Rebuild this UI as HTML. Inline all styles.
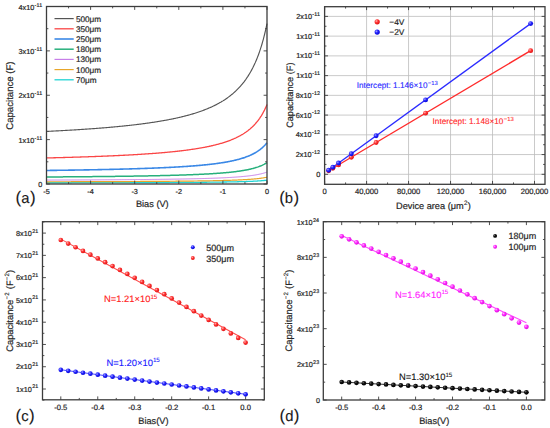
<!DOCTYPE html><html><head><meta charset="utf-8"><style>html,body{margin:0;padding:0;background:#fff;width:550px;height:428px;overflow:hidden}svg{display:block}</style></head><body>
<svg width="550" height="428" viewBox="0 0 550 428" font-family='"Liberation Sans", sans-serif'>
<style>text{stroke-width:0.2px;stroke-linejoin:round;text-rendering:geometricPrecision}</style>
<rect width="550" height="428" fill="#fff"/>
<defs>
<radialGradient id="gr" cx="35%" cy="35%" r="65%"><stop offset="0" stop-color="#ffb4b4"/><stop offset="0.45" stop-color="#ff3636"/><stop offset="1" stop-color="#e01414"/></radialGradient>
<radialGradient id="gb" cx="35%" cy="35%" r="65%"><stop offset="0" stop-color="#a8a8ff"/><stop offset="0.45" stop-color="#2626ff"/><stop offset="1" stop-color="#0808d8"/></radialGradient>
<radialGradient id="gm" cx="35%" cy="35%" r="65%"><stop offset="0" stop-color="#ffb8ff"/><stop offset="0.45" stop-color="#ff2cff"/><stop offset="1" stop-color="#dc10dc"/></radialGradient>
<radialGradient id="gk" cx="35%" cy="35%" r="65%"><stop offset="0" stop-color="#707070"/><stop offset="0.4" stop-color="#111"/><stop offset="1" stop-color="#000"/></radialGradient>
</defs>
<path d="M46.5,182.76 L47.23,182.76 L47.97,182.76 L48.7,182.75 L49.44,182.75 L50.17,182.75 L50.91,182.75 L51.64,182.75 L52.38,182.75 L53.12,182.75 L53.85,182.75 L54.59,182.75 L55.32,182.75 L56.06,182.75 L56.79,182.75 L57.52,182.74 L58.26,182.74 L58.99,182.74 L59.73,182.74 L60.46,182.74 L61.2,182.74 L61.93,182.74 L62.67,182.74 L63.4,182.74 L64.14,182.74 L64.88,182.73 L65.61,182.73 L66.35,182.73 L67.08,182.73 L67.81,182.73 L68.55,182.73 L69.28,182.73 L70.02,182.73 L70.75,182.73 L71.49,182.73 L72.22,182.72 L72.96,182.72 L73.7,182.72 L74.43,182.72 L75.17,182.72 L75.9,182.72 L76.64,182.72 L77.37,182.72 L78.11,182.72 L78.84,182.72 L79.57,182.71 L80.31,182.71 L81.04,182.71 L81.78,182.71 L82.51,182.71 L83.25,182.71 L83.98,182.71 L84.72,182.71 L85.45,182.7 L86.19,182.7 L86.93,182.7 L87.66,182.7 L88.4,182.7 L89.13,182.7 L89.87,182.7 L90.6,182.7 L91.33,182.7 L92.07,182.69 L92.8,182.69 L93.54,182.69 L94.28,182.69 L95.01,182.69 L95.75,182.69 L96.48,182.69 L97.22,182.68 L97.95,182.68 L98.69,182.68 L99.42,182.68 L100.16,182.68 L100.89,182.68 L101.62,182.68 L102.36,182.68 L103.09,182.67 L103.83,182.67 L104.56,182.67 L105.3,182.67 L106.03,182.67 L106.77,182.67 L107.5,182.67 L108.24,182.66 L108.97,182.66 L109.71,182.66 L110.45,182.66 L111.18,182.66 L111.92,182.66 L112.65,182.65 L113.39,182.65 L114.12,182.65 L114.85,182.65 L115.59,182.65 L116.32,182.65 L117.06,182.64 L117.79,182.64 L118.53,182.64 L119.27,182.64 L120,182.64 L120.74,182.64 L121.47,182.63 L122.21,182.63 L122.94,182.63 L123.67,182.63 L124.41,182.63 L125.14,182.63 L125.88,182.62 L126.61,182.62 L127.35,182.62 L128.08,182.62 L128.82,182.62 L129.56,182.61 L130.29,182.61 L131.03,182.61 L131.76,182.61 L132.5,182.61 L133.23,182.6 L133.97,182.6 L134.7,182.6 L135.44,182.6 L136.17,182.6 L136.91,182.59 L137.64,182.59 L138.38,182.59 L139.11,182.59 L139.84,182.59 L140.58,182.58 L141.31,182.58 L142.05,182.58 L142.78,182.58 L143.52,182.57 L144.25,182.57 L144.99,182.57 L145.73,182.57 L146.46,182.57 L147.19,182.56 L147.93,182.56 L148.66,182.56 L149.4,182.56 L150.13,182.55 L150.87,182.55 L151.61,182.55 L152.34,182.55 L153.07,182.54 L153.81,182.54 L154.55,182.54 L155.28,182.53 L156.01,182.53 L156.75,182.53 L157.49,182.53 L158.22,182.52 L158.95,182.52 L159.69,182.52 L160.43,182.52 L161.16,182.51 L161.89,182.51 L162.63,182.51 L163.37,182.5 L164.1,182.5 L164.83,182.5 L165.57,182.49 L166.31,182.49 L167.04,182.49 L167.78,182.48 L168.51,182.48 L169.25,182.48 L169.98,182.47 L170.72,182.47 L171.45,182.47 L172.19,182.46 L172.92,182.46 L173.66,182.46 L174.39,182.45 L175.12,182.45 L175.86,182.45 L176.59,182.44 L177.33,182.44 L178.06,182.43 L178.8,182.43 L179.54,182.43 L180.27,182.42 L181,182.42 L181.74,182.41 L182.47,182.41 L183.21,182.4 L183.94,182.4 L184.68,182.4 L185.41,182.39 L186.15,182.39 L186.89,182.38 L187.62,182.38 L188.35,182.37 L189.09,182.37 L189.83,182.36 L190.56,182.36 L191.29,182.35 L192.03,182.35 L192.76,182.34 L193.5,182.34 L194.24,182.33 L194.97,182.33 L195.7,182.32 L196.44,182.32 L197.18,182.31 L197.91,182.3 L198.64,182.3 L199.38,182.29 L200.12,182.29 L200.85,182.28 L201.59,182.27 L202.32,182.27 L203.05,182.26 L203.79,182.26 L204.53,182.25 L205.26,182.24 L206,182.23 L206.73,182.23 L207.47,182.22 L208.2,182.21 L208.94,182.21 L209.67,182.2 L210.41,182.19 L211.14,182.18 L211.88,182.18 L212.61,182.17 L213.34,182.16 L214.08,182.15 L214.81,182.14 L215.55,182.13 L216.28,182.12 L217.02,182.12 L217.75,182.11 L218.49,182.1 L219.22,182.09 L219.96,182.08 L220.7,182.07 L221.43,182.06 L222.16,182.05 L222.9,182.04 L223.63,182.02 L224.37,182.01 L225.11,182 L225.84,181.99 L226.57,181.98 L227.31,181.97 L228.05,181.95 L228.78,181.94 L229.51,181.93 L230.25,181.91 L230.99,181.9 L231.72,181.89 L232.46,181.87 L233.19,181.86 L233.92,181.84 L234.66,181.83 L235.4,181.81 L236.13,181.79 L236.86,181.78 L237.6,181.76 L238.33,181.74 L239.07,181.72 L239.81,181.71 L240.54,181.69 L241.27,181.67 L242.01,181.65 L242.75,181.62 L243.48,181.6 L244.22,181.58 L244.95,181.56 L245.69,181.53 L246.42,181.51 L247.15,181.48 L247.89,181.46 L248.62,181.43 L249.36,181.4 L250.1,181.37 L250.83,181.34 L251.56,181.31 L252.3,181.28 L253.04,181.24 L253.77,181.21 L254.5,181.17 L255.24,181.13 L255.97,181.09 L256.71,181.05 L257.44,181.01 L258.18,180.96 L258.91,180.92 L259.65,180.87 L260.38,180.81 L261.12,180.76 L261.86,180.7 L262.59,180.64 L263.32,180.58 L264.06,180.51 L264.79,180.44 L265.53,180.37 L266.26,180.29 L267,180.21" fill="none" stroke="#22d4d4" stroke-width="1.3" stroke-linejoin="round" />
<path d="M46.5,181.78 L47.23,181.78 L47.97,181.78 L48.7,181.78 L49.44,181.78 L50.17,181.77 L50.91,181.77 L51.64,181.77 L52.38,181.77 L53.12,181.77 L53.85,181.77 L54.59,181.76 L55.32,181.76 L56.06,181.76 L56.79,181.76 L57.52,181.76 L58.26,181.76 L58.99,181.75 L59.73,181.75 L60.46,181.75 L61.2,181.75 L61.93,181.75 L62.67,181.75 L63.4,181.74 L64.14,181.74 L64.88,181.74 L65.61,181.74 L66.35,181.74 L67.08,181.74 L67.81,181.73 L68.55,181.73 L69.28,181.73 L70.02,181.73 L70.75,181.73 L71.49,181.72 L72.22,181.72 L72.96,181.72 L73.7,181.72 L74.43,181.72 L75.17,181.72 L75.9,181.71 L76.64,181.71 L77.37,181.71 L78.11,181.71 L78.84,181.71 L79.57,181.7 L80.31,181.7 L81.04,181.7 L81.78,181.7 L82.51,181.7 L83.25,181.69 L83.98,181.69 L84.72,181.69 L85.45,181.69 L86.19,181.69 L86.93,181.68 L87.66,181.68 L88.4,181.68 L89.13,181.68 L89.87,181.67 L90.6,181.67 L91.33,181.67 L92.07,181.67 L92.8,181.67 L93.54,181.66 L94.28,181.66 L95.01,181.66 L95.75,181.66 L96.48,181.65 L97.22,181.65 L97.95,181.65 L98.69,181.65 L99.42,181.64 L100.16,181.64 L100.89,181.64 L101.62,181.64 L102.36,181.63 L103.09,181.63 L103.83,181.63 L104.56,181.63 L105.3,181.62 L106.03,181.62 L106.77,181.62 L107.5,181.62 L108.24,181.61 L108.97,181.61 L109.71,181.61 L110.45,181.61 L111.18,181.6 L111.92,181.6 L112.65,181.6 L113.39,181.59 L114.12,181.59 L114.85,181.59 L115.59,181.59 L116.32,181.58 L117.06,181.58 L117.79,181.58 L118.53,181.57 L119.27,181.57 L120,181.57 L120.74,181.57 L121.47,181.56 L122.21,181.56 L122.94,181.56 L123.67,181.55 L124.41,181.55 L125.14,181.55 L125.88,181.54 L126.61,181.54 L127.35,181.54 L128.08,181.53 L128.82,181.53 L129.56,181.53 L130.29,181.52 L131.03,181.52 L131.76,181.52 L132.5,181.51 L133.23,181.51 L133.97,181.51 L134.7,181.5 L135.44,181.5 L136.17,181.49 L136.91,181.49 L137.64,181.49 L138.38,181.48 L139.11,181.48 L139.84,181.48 L140.58,181.47 L141.31,181.47 L142.05,181.46 L142.78,181.46 L143.52,181.45 L144.25,181.45 L144.99,181.45 L145.73,181.44 L146.46,181.44 L147.19,181.43 L147.93,181.43 L148.66,181.43 L149.4,181.42 L150.13,181.42 L150.87,181.41 L151.61,181.41 L152.34,181.4 L153.07,181.4 L153.81,181.39 L154.55,181.39 L155.28,181.38 L156.01,181.38 L156.75,181.37 L157.49,181.37 L158.22,181.36 L158.95,181.36 L159.69,181.35 L160.43,181.35 L161.16,181.34 L161.89,181.34 L162.63,181.33 L163.37,181.33 L164.1,181.32 L164.83,181.32 L165.57,181.31 L166.31,181.3 L167.04,181.3 L167.78,181.29 L168.51,181.29 L169.25,181.28 L169.98,181.27 L170.72,181.27 L171.45,181.26 L172.19,181.26 L172.92,181.25 L173.66,181.24 L174.39,181.24 L175.12,181.23 L175.86,181.22 L176.59,181.22 L177.33,181.21 L178.06,181.2 L178.8,181.2 L179.54,181.19 L180.27,181.18 L181,181.17 L181.74,181.17 L182.47,181.16 L183.21,181.15 L183.94,181.14 L184.68,181.14 L185.41,181.13 L186.15,181.12 L186.89,181.11 L187.62,181.1 L188.35,181.09 L189.09,181.09 L189.83,181.08 L190.56,181.07 L191.29,181.06 L192.03,181.05 L192.76,181.04 L193.5,181.03 L194.24,181.02 L194.97,181.01 L195.7,181 L196.44,180.99 L197.18,180.98 L197.91,180.97 L198.64,180.96 L199.38,180.95 L200.12,180.94 L200.85,180.93 L201.59,180.92 L202.32,180.91 L203.05,180.9 L203.79,180.88 L204.53,180.87 L205.26,180.86 L206,180.85 L206.73,180.84 L207.47,180.82 L208.2,180.81 L208.94,180.8 L209.67,180.78 L210.41,180.77 L211.14,180.76 L211.88,180.74 L212.61,180.73 L213.34,180.71 L214.08,180.7 L214.81,180.68 L215.55,180.67 L216.28,180.65 L217.02,180.63 L217.75,180.62 L218.49,180.6 L219.22,180.58 L219.96,180.57 L220.7,180.55 L221.43,180.53 L222.16,180.51 L222.9,180.49 L223.63,180.47 L224.37,180.45 L225.11,180.43 L225.84,180.41 L226.57,180.39 L227.31,180.37 L228.05,180.35 L228.78,180.32 L229.51,180.3 L230.25,180.28 L230.99,180.25 L231.72,180.23 L232.46,180.2 L233.19,180.17 L233.92,180.15 L234.66,180.12 L235.4,180.09 L236.13,180.06 L236.86,180.03 L237.6,180 L238.33,179.97 L239.07,179.94 L239.81,179.9 L240.54,179.87 L241.27,179.83 L242.01,179.79 L242.75,179.76 L243.48,179.72 L244.22,179.68 L244.95,179.64 L245.69,179.59 L246.42,179.55 L247.15,179.5 L247.89,179.46 L248.62,179.41 L249.36,179.36 L250.1,179.3 L250.83,179.25 L251.56,179.19 L252.3,179.14 L253.04,179.08 L253.77,179.01 L254.5,178.95 L255.24,178.88 L255.97,178.81 L256.71,178.73 L257.44,178.66 L258.18,178.58 L258.91,178.49 L259.65,178.4 L260.38,178.31 L261.12,178.21 L261.86,178.11 L262.59,178.01 L263.32,177.89 L264.06,177.78 L264.79,177.65 L265.53,177.52 L266.26,177.38 L267,177.23" fill="none" stroke="#e8a62a" stroke-width="1.2" stroke-linejoin="round" />
<path d="M46.5,180.09 L47.23,180.09 L47.97,180.09 L48.7,180.09 L49.44,180.08 L50.17,180.08 L50.91,180.08 L51.64,180.08 L52.38,180.07 L53.12,180.07 L53.85,180.07 L54.59,180.07 L55.32,180.06 L56.06,180.06 L56.79,180.06 L57.52,180.05 L58.26,180.05 L58.99,180.05 L59.73,180.05 L60.46,180.04 L61.2,180.04 L61.93,180.04 L62.67,180.03 L63.4,180.03 L64.14,180.03 L64.88,180.02 L65.61,180.02 L66.35,180.02 L67.08,180.01 L67.81,180.01 L68.55,180.01 L69.28,180.01 L70.02,180 L70.75,180 L71.49,180 L72.22,179.99 L72.96,179.99 L73.7,179.99 L74.43,179.98 L75.17,179.98 L75.9,179.98 L76.64,179.97 L77.37,179.97 L78.11,179.97 L78.84,179.96 L79.57,179.96 L80.31,179.96 L81.04,179.95 L81.78,179.95 L82.51,179.94 L83.25,179.94 L83.98,179.94 L84.72,179.93 L85.45,179.93 L86.19,179.93 L86.93,179.92 L87.66,179.92 L88.4,179.91 L89.13,179.91 L89.87,179.91 L90.6,179.9 L91.33,179.9 L92.07,179.9 L92.8,179.89 L93.54,179.89 L94.28,179.88 L95.01,179.88 L95.75,179.88 L96.48,179.87 L97.22,179.87 L97.95,179.86 L98.69,179.86 L99.42,179.85 L100.16,179.85 L100.89,179.85 L101.62,179.84 L102.36,179.84 L103.09,179.83 L103.83,179.83 L104.56,179.82 L105.3,179.82 L106.03,179.81 L106.77,179.81 L107.5,179.81 L108.24,179.8 L108.97,179.8 L109.71,179.79 L110.45,179.79 L111.18,179.78 L111.92,179.78 L112.65,179.77 L113.39,179.77 L114.12,179.76 L114.85,179.76 L115.59,179.75 L116.32,179.75 L117.06,179.74 L117.79,179.74 L118.53,179.73 L119.27,179.73 L120,179.72 L120.74,179.71 L121.47,179.71 L122.21,179.7 L122.94,179.7 L123.67,179.69 L124.41,179.69 L125.14,179.68 L125.88,179.68 L126.61,179.67 L127.35,179.66 L128.08,179.66 L128.82,179.65 L129.56,179.65 L130.29,179.64 L131.03,179.63 L131.76,179.63 L132.5,179.62 L133.23,179.62 L133.97,179.61 L134.7,179.6 L135.44,179.6 L136.17,179.59 L136.91,179.58 L137.64,179.58 L138.38,179.57 L139.11,179.56 L139.84,179.56 L140.58,179.55 L141.31,179.54 L142.05,179.54 L142.78,179.53 L143.52,179.52 L144.25,179.51 L144.99,179.51 L145.73,179.5 L146.46,179.49 L147.19,179.48 L147.93,179.48 L148.66,179.47 L149.4,179.46 L150.13,179.45 L150.87,179.44 L151.61,179.44 L152.34,179.43 L153.07,179.42 L153.81,179.41 L154.55,179.4 L155.28,179.4 L156.01,179.39 L156.75,179.38 L157.49,179.37 L158.22,179.36 L158.95,179.35 L159.69,179.34 L160.43,179.33 L161.16,179.32 L161.89,179.31 L162.63,179.3 L163.37,179.3 L164.1,179.29 L164.83,179.28 L165.57,179.27 L166.31,179.26 L167.04,179.25 L167.78,179.24 L168.51,179.22 L169.25,179.21 L169.98,179.2 L170.72,179.19 L171.45,179.18 L172.19,179.17 L172.92,179.16 L173.66,179.15 L174.39,179.14 L175.12,179.12 L175.86,179.11 L176.59,179.1 L177.33,179.09 L178.06,179.08 L178.8,179.06 L179.54,179.05 L180.27,179.04 L181,179.03 L181.74,179.01 L182.47,179 L183.21,178.99 L183.94,178.97 L184.68,178.96 L185.41,178.94 L186.15,178.93 L186.89,178.92 L187.62,178.9 L188.35,178.89 L189.09,178.87 L189.83,178.86 L190.56,178.84 L191.29,178.82 L192.03,178.81 L192.76,178.79 L193.5,178.78 L194.24,178.76 L194.97,178.74 L195.7,178.73 L196.44,178.71 L197.18,178.69 L197.91,178.67 L198.64,178.65 L199.38,178.64 L200.12,178.62 L200.85,178.6 L201.59,178.58 L202.32,178.56 L203.05,178.54 L203.79,178.52 L204.53,178.5 L205.26,178.47 L206,178.45 L206.73,178.43 L207.47,178.41 L208.2,178.39 L208.94,178.36 L209.67,178.34 L210.41,178.31 L211.14,178.29 L211.88,178.27 L212.61,178.24 L213.34,178.21 L214.08,178.19 L214.81,178.16 L215.55,178.13 L216.28,178.11 L217.02,178.08 L217.75,178.05 L218.49,178.02 L219.22,177.99 L219.96,177.96 L220.7,177.93 L221.43,177.89 L222.16,177.86 L222.9,177.83 L223.63,177.79 L224.37,177.76 L225.11,177.72 L225.84,177.68 L226.57,177.65 L227.31,177.61 L228.05,177.57 L228.78,177.53 L229.51,177.49 L230.25,177.45 L230.99,177.4 L231.72,177.36 L232.46,177.31 L233.19,177.27 L233.92,177.22 L234.66,177.17 L235.4,177.12 L236.13,177.07 L236.86,177.01 L237.6,176.96 L238.33,176.9 L239.07,176.85 L239.81,176.79 L240.54,176.73 L241.27,176.66 L242.01,176.6 L242.75,176.53 L243.48,176.46 L244.22,176.39 L244.95,176.32 L245.69,176.24 L246.42,176.17 L247.15,176.09 L247.89,176 L248.62,175.92 L249.36,175.83 L250.1,175.74 L250.83,175.64 L251.56,175.54 L252.3,175.44 L253.04,175.33 L253.77,175.22 L254.5,175.11 L255.24,174.99 L255.97,174.86 L256.71,174.73 L257.44,174.6 L258.18,174.45 L258.91,174.31 L259.65,174.15 L260.38,173.99 L261.12,173.82 L261.86,173.64 L262.59,173.45 L263.32,173.25 L264.06,173.04 L264.79,172.82 L265.53,172.59 L266.26,172.35 L267,172.09" fill="none" stroke="#c77ee8" stroke-width="1" stroke-linejoin="round" />
<path d="M46.5,176.99 L47.23,176.98 L47.97,176.98 L48.7,176.97 L49.44,176.97 L50.17,176.96 L50.91,176.96 L51.64,176.96 L52.38,176.95 L53.12,176.95 L53.85,176.94 L54.59,176.94 L55.32,176.93 L56.06,176.93 L56.79,176.92 L57.52,176.91 L58.26,176.91 L58.99,176.9 L59.73,176.9 L60.46,176.89 L61.2,176.89 L61.93,176.88 L62.67,176.88 L63.4,176.87 L64.14,176.87 L64.88,176.86 L65.61,176.86 L66.35,176.85 L67.08,176.85 L67.81,176.84 L68.55,176.83 L69.28,176.83 L70.02,176.82 L70.75,176.82 L71.49,176.81 L72.22,176.8 L72.96,176.8 L73.7,176.79 L74.43,176.79 L75.17,176.78 L75.9,176.77 L76.64,176.77 L77.37,176.76 L78.11,176.76 L78.84,176.75 L79.57,176.74 L80.31,176.74 L81.04,176.73 L81.78,176.72 L82.51,176.72 L83.25,176.71 L83.98,176.71 L84.72,176.7 L85.45,176.69 L86.19,176.69 L86.93,176.68 L87.66,176.67 L88.4,176.67 L89.13,176.66 L89.87,176.65 L90.6,176.64 L91.33,176.64 L92.07,176.63 L92.8,176.62 L93.54,176.62 L94.28,176.61 L95.01,176.6 L95.75,176.59 L96.48,176.59 L97.22,176.58 L97.95,176.57 L98.69,176.56 L99.42,176.56 L100.16,176.55 L100.89,176.54 L101.62,176.53 L102.36,176.53 L103.09,176.52 L103.83,176.51 L104.56,176.5 L105.3,176.49 L106.03,176.48 L106.77,176.48 L107.5,176.47 L108.24,176.46 L108.97,176.45 L109.71,176.44 L110.45,176.43 L111.18,176.43 L111.92,176.42 L112.65,176.41 L113.39,176.4 L114.12,176.39 L114.85,176.38 L115.59,176.37 L116.32,176.36 L117.06,176.35 L117.79,176.34 L118.53,176.33 L119.27,176.33 L120,176.32 L120.74,176.31 L121.47,176.3 L122.21,176.29 L122.94,176.28 L123.67,176.27 L124.41,176.26 L125.14,176.25 L125.88,176.24 L126.61,176.23 L127.35,176.21 L128.08,176.2 L128.82,176.19 L129.56,176.18 L130.29,176.17 L131.03,176.16 L131.76,176.15 L132.5,176.14 L133.23,176.13 L133.97,176.12 L134.7,176.1 L135.44,176.09 L136.17,176.08 L136.91,176.07 L137.64,176.06 L138.38,176.05 L139.11,176.03 L139.84,176.02 L140.58,176.01 L141.31,176 L142.05,175.98 L142.78,175.97 L143.52,175.96 L144.25,175.94 L144.99,175.93 L145.73,175.92 L146.46,175.9 L147.19,175.89 L147.93,175.88 L148.66,175.86 L149.4,175.85 L150.13,175.84 L150.87,175.82 L151.61,175.81 L152.34,175.79 L153.07,175.78 L153.81,175.76 L154.55,175.75 L155.28,175.73 L156.01,175.72 L156.75,175.7 L157.49,175.69 L158.22,175.67 L158.95,175.65 L159.69,175.64 L160.43,175.62 L161.16,175.6 L161.89,175.59 L162.63,175.57 L163.37,175.55 L164.1,175.54 L164.83,175.52 L165.57,175.5 L166.31,175.48 L167.04,175.46 L167.78,175.44 L168.51,175.43 L169.25,175.41 L169.98,175.39 L170.72,175.37 L171.45,175.35 L172.19,175.33 L172.92,175.31 L173.66,175.29 L174.39,175.27 L175.12,175.25 L175.86,175.23 L176.59,175.2 L177.33,175.18 L178.06,175.16 L178.8,175.14 L179.54,175.12 L180.27,175.09 L181,175.07 L181.74,175.05 L182.47,175.02 L183.21,175 L183.94,174.97 L184.68,174.95 L185.41,174.92 L186.15,174.9 L186.89,174.87 L187.62,174.85 L188.35,174.82 L189.09,174.79 L189.83,174.76 L190.56,174.74 L191.29,174.71 L192.03,174.68 L192.76,174.65 L193.5,174.62 L194.24,174.59 L194.97,174.56 L195.7,174.53 L196.44,174.5 L197.18,174.47 L197.91,174.43 L198.64,174.4 L199.38,174.37 L200.12,174.33 L200.85,174.3 L201.59,174.26 L202.32,174.23 L203.05,174.19 L203.79,174.15 L204.53,174.12 L205.26,174.08 L206,174.04 L206.73,174 L207.47,173.96 L208.2,173.92 L208.94,173.88 L209.67,173.84 L210.41,173.79 L211.14,173.75 L211.88,173.7 L212.61,173.66 L213.34,173.61 L214.08,173.56 L214.81,173.52 L215.55,173.47 L216.28,173.42 L217.02,173.37 L217.75,173.31 L218.49,173.26 L219.22,173.21 L219.96,173.15 L220.7,173.09 L221.43,173.04 L222.16,172.98 L222.9,172.92 L223.63,172.85 L224.37,172.79 L225.11,172.73 L225.84,172.66 L226.57,172.59 L227.31,172.52 L228.05,172.45 L228.78,172.38 L229.51,172.31 L230.25,172.23 L230.99,172.15 L231.72,172.07 L232.46,171.99 L233.19,171.91 L233.92,171.82 L234.66,171.74 L235.4,171.65 L236.13,171.55 L236.86,171.46 L237.6,171.36 L238.33,171.26 L239.07,171.16 L239.81,171.05 L240.54,170.94 L241.27,170.83 L242.01,170.71 L242.75,170.59 L243.48,170.47 L244.22,170.34 L244.95,170.21 L245.69,170.08 L246.42,169.94 L247.15,169.79 L247.89,169.64 L248.62,169.49 L249.36,169.33 L250.1,169.16 L250.83,168.99 L251.56,168.81 L252.3,168.63 L253.04,168.44 L253.77,168.24 L254.5,168.03 L255.24,167.82 L255.97,167.59 L256.71,167.36 L257.44,167.11 L258.18,166.86 L258.91,166.59 L259.65,166.31 L260.38,166.02 L261.12,165.72 L261.86,165.4 L262.59,165.06 L263.32,164.7 L264.06,164.33 L264.79,163.93 L265.53,163.52 L266.26,163.08 L267,162.61" fill="none" stroke="#27b07c" stroke-width="1.5" stroke-linejoin="round" />
<path d="M46.5,170.47 L47.23,170.46 L47.97,170.45 L48.7,170.44 L49.44,170.43 L50.17,170.42 L50.91,170.41 L51.64,170.4 L52.38,170.39 L53.12,170.38 L53.85,170.37 L54.59,170.36 L55.32,170.35 L56.06,170.34 L56.79,170.33 L57.52,170.32 L58.26,170.31 L58.99,170.3 L59.73,170.29 L60.46,170.28 L61.2,170.27 L61.93,170.26 L62.67,170.25 L63.4,170.24 L64.14,170.23 L64.88,170.22 L65.61,170.21 L66.35,170.2 L67.08,170.19 L67.81,170.18 L68.55,170.17 L69.28,170.16 L70.02,170.14 L70.75,170.13 L71.49,170.12 L72.22,170.11 L72.96,170.1 L73.7,170.09 L74.43,170.08 L75.17,170.06 L75.9,170.05 L76.64,170.04 L77.37,170.03 L78.11,170.02 L78.84,170.01 L79.57,169.99 L80.31,169.98 L81.04,169.97 L81.78,169.96 L82.51,169.94 L83.25,169.93 L83.98,169.92 L84.72,169.91 L85.45,169.89 L86.19,169.88 L86.93,169.87 L87.66,169.85 L88.4,169.84 L89.13,169.83 L89.87,169.81 L90.6,169.8 L91.33,169.79 L92.07,169.77 L92.8,169.76 L93.54,169.75 L94.28,169.73 L95.01,169.72 L95.75,169.7 L96.48,169.69 L97.22,169.68 L97.95,169.66 L98.69,169.65 L99.42,169.63 L100.16,169.62 L100.89,169.6 L101.62,169.59 L102.36,169.57 L103.09,169.56 L103.83,169.54 L104.56,169.52 L105.3,169.51 L106.03,169.49 L106.77,169.48 L107.5,169.46 L108.24,169.44 L108.97,169.43 L109.71,169.41 L110.45,169.4 L111.18,169.38 L111.92,169.36 L112.65,169.34 L113.39,169.33 L114.12,169.31 L114.85,169.29 L115.59,169.28 L116.32,169.26 L117.06,169.24 L117.79,169.22 L118.53,169.2 L119.27,169.18 L120,169.17 L120.74,169.15 L121.47,169.13 L122.21,169.11 L122.94,169.09 L123.67,169.07 L124.41,169.05 L125.14,169.03 L125.88,169.01 L126.61,168.99 L127.35,168.97 L128.08,168.95 L128.82,168.93 L129.56,168.91 L130.29,168.89 L131.03,168.87 L131.76,168.85 L132.5,168.82 L133.23,168.8 L133.97,168.78 L134.7,168.76 L135.44,168.74 L136.17,168.71 L136.91,168.69 L137.64,168.67 L138.38,168.64 L139.11,168.62 L139.84,168.6 L140.58,168.57 L141.31,168.55 L142.05,168.52 L142.78,168.5 L143.52,168.48 L144.25,168.45 L144.99,168.42 L145.73,168.4 L146.46,168.37 L147.19,168.35 L147.93,168.32 L148.66,168.29 L149.4,168.27 L150.13,168.24 L150.87,168.21 L151.61,168.18 L152.34,168.16 L153.07,168.13 L153.81,168.1 L154.55,168.07 L155.28,168.04 L156.01,168.01 L156.75,167.98 L157.49,167.95 L158.22,167.92 L158.95,167.89 L159.69,167.86 L160.43,167.82 L161.16,167.79 L161.89,167.76 L162.63,167.73 L163.37,167.69 L164.1,167.66 L164.83,167.63 L165.57,167.59 L166.31,167.56 L167.04,167.52 L167.78,167.49 L168.51,167.45 L169.25,167.41 L169.98,167.38 L170.72,167.34 L171.45,167.3 L172.19,167.26 L172.92,167.22 L173.66,167.18 L174.39,167.14 L175.12,167.1 L175.86,167.06 L176.59,167.02 L177.33,166.98 L178.06,166.94 L178.8,166.89 L179.54,166.85 L180.27,166.81 L181,166.76 L181.74,166.71 L182.47,166.67 L183.21,166.62 L183.94,166.57 L184.68,166.53 L185.41,166.48 L186.15,166.43 L186.89,166.38 L187.62,166.33 L188.35,166.28 L189.09,166.22 L189.83,166.17 L190.56,166.12 L191.29,166.06 L192.03,166.01 L192.76,165.95 L193.5,165.89 L194.24,165.84 L194.97,165.78 L195.7,165.72 L196.44,165.66 L197.18,165.6 L197.91,165.53 L198.64,165.47 L199.38,165.41 L200.12,165.34 L200.85,165.27 L201.59,165.21 L202.32,165.14 L203.05,165.07 L203.79,165 L204.53,164.92 L205.26,164.85 L206,164.77 L206.73,164.7 L207.47,164.62 L208.2,164.54 L208.94,164.46 L209.67,164.38 L210.41,164.3 L211.14,164.21 L211.88,164.12 L212.61,164.04 L213.34,163.95 L214.08,163.85 L214.81,163.76 L215.55,163.67 L216.28,163.57 L217.02,163.47 L217.75,163.37 L218.49,163.27 L219.22,163.16 L219.96,163.05 L220.7,162.95 L221.43,162.83 L222.16,162.72 L222.9,162.6 L223.63,162.48 L224.37,162.36 L225.11,162.24 L225.84,162.11 L226.57,161.98 L227.31,161.85 L228.05,161.71 L228.78,161.57 L229.51,161.43 L230.25,161.28 L230.99,161.13 L231.72,160.98 L232.46,160.82 L233.19,160.66 L233.92,160.5 L234.66,160.33 L235.4,160.15 L236.13,159.97 L236.86,159.79 L237.6,159.6 L238.33,159.41 L239.07,159.21 L239.81,159 L240.54,158.79 L241.27,158.57 L242.01,158.35 L242.75,158.12 L243.48,157.88 L244.22,157.64 L244.95,157.38 L245.69,157.12 L246.42,156.85 L247.15,156.57 L247.89,156.29 L248.62,155.99 L249.36,155.68 L250.1,155.36 L250.83,155.03 L251.56,154.69 L252.3,154.33 L253.04,153.96 L253.77,153.58 L254.5,153.18 L255.24,152.76 L255.97,152.33 L256.71,151.88 L257.44,151.4 L258.18,150.91 L258.91,150.4 L259.65,149.86 L260.38,149.3 L261.12,148.71 L261.86,148.09 L262.59,147.44 L263.32,146.75 L264.06,146.03 L264.79,145.27 L265.53,144.46 L266.26,143.61 L267,142.7" fill="none" stroke="#3a88e6" stroke-width="1.6" stroke-linejoin="round" />
<path d="M46.5,157.95 L47.23,157.93 L47.97,157.92 L48.7,157.9 L49.44,157.88 L50.17,157.86 L50.91,157.85 L51.64,157.83 L52.38,157.81 L53.12,157.79 L53.85,157.77 L54.59,157.75 L55.32,157.73 L56.06,157.72 L56.79,157.7 L57.52,157.68 L58.26,157.66 L58.99,157.64 L59.73,157.62 L60.46,157.6 L61.2,157.58 L61.93,157.56 L62.67,157.54 L63.4,157.52 L64.14,157.5 L64.88,157.48 L65.61,157.46 L66.35,157.44 L67.08,157.42 L67.81,157.4 L68.55,157.38 L69.28,157.35 L70.02,157.33 L70.75,157.31 L71.49,157.29 L72.22,157.27 L72.96,157.25 L73.7,157.22 L74.43,157.2 L75.17,157.18 L75.9,157.16 L76.64,157.13 L77.37,157.11 L78.11,157.09 L78.84,157.07 L79.57,157.04 L80.31,157.02 L81.04,157 L81.78,156.97 L82.51,156.95 L83.25,156.92 L83.98,156.9 L84.72,156.88 L85.45,156.85 L86.19,156.83 L86.93,156.8 L87.66,156.78 L88.4,156.75 L89.13,156.72 L89.87,156.7 L90.6,156.67 L91.33,156.65 L92.07,156.62 L92.8,156.59 L93.54,156.57 L94.28,156.54 L95.01,156.51 L95.75,156.49 L96.48,156.46 L97.22,156.43 L97.95,156.4 L98.69,156.37 L99.42,156.35 L100.16,156.32 L100.89,156.29 L101.62,156.26 L102.36,156.23 L103.09,156.2 L103.83,156.17 L104.56,156.14 L105.3,156.11 L106.03,156.08 L106.77,156.05 L107.5,156.02 L108.24,155.99 L108.97,155.96 L109.71,155.92 L110.45,155.89 L111.18,155.86 L111.92,155.83 L112.65,155.79 L113.39,155.76 L114.12,155.73 L114.85,155.69 L115.59,155.66 L116.32,155.63 L117.06,155.59 L117.79,155.56 L118.53,155.52 L119.27,155.49 L120,155.45 L120.74,155.42 L121.47,155.38 L122.21,155.34 L122.94,155.31 L123.67,155.27 L124.41,155.23 L125.14,155.19 L125.88,155.15 L126.61,155.12 L127.35,155.08 L128.08,155.04 L128.82,155 L129.56,154.96 L130.29,154.92 L131.03,154.88 L131.76,154.84 L132.5,154.79 L133.23,154.75 L133.97,154.71 L134.7,154.67 L135.44,154.62 L136.17,154.58 L136.91,154.54 L137.64,154.49 L138.38,154.45 L139.11,154.4 L139.84,154.36 L140.58,154.31 L141.31,154.26 L142.05,154.22 L142.78,154.17 L143.52,154.12 L144.25,154.07 L144.99,154.02 L145.73,153.97 L146.46,153.92 L147.19,153.87 L147.93,153.82 L148.66,153.77 L149.4,153.72 L150.13,153.67 L150.87,153.61 L151.61,153.56 L152.34,153.51 L153.07,153.45 L153.81,153.4 L154.55,153.34 L155.28,153.28 L156.01,153.23 L156.75,153.17 L157.49,153.11 L158.22,153.05 L158.95,152.99 L159.69,152.93 L160.43,152.87 L161.16,152.81 L161.89,152.74 L162.63,152.68 L163.37,152.62 L164.1,152.55 L164.83,152.49 L165.57,152.42 L166.31,152.35 L167.04,152.28 L167.78,152.22 L168.51,152.15 L169.25,152.08 L169.98,152 L170.72,151.93 L171.45,151.86 L172.19,151.79 L172.92,151.71 L173.66,151.63 L174.39,151.56 L175.12,151.48 L175.86,151.4 L176.59,151.32 L177.33,151.24 L178.06,151.16 L178.8,151.08 L179.54,150.99 L180.27,150.91 L181,150.82 L181.74,150.73 L182.47,150.64 L183.21,150.55 L183.94,150.46 L184.68,150.37 L185.41,150.28 L186.15,150.18 L186.89,150.09 L187.62,149.99 L188.35,149.89 L189.09,149.79 L189.83,149.69 L190.56,149.58 L191.29,149.48 L192.03,149.37 L192.76,149.26 L193.5,149.15 L194.24,149.04 L194.97,148.93 L195.7,148.82 L196.44,148.7 L197.18,148.58 L197.91,148.46 L198.64,148.34 L199.38,148.21 L200.12,148.09 L200.85,147.96 L201.59,147.83 L202.32,147.7 L203.05,147.56 L203.79,147.42 L204.53,147.28 L205.26,147.14 L206,147 L206.73,146.85 L207.47,146.7 L208.2,146.55 L208.94,146.39 L209.67,146.24 L210.41,146.08 L211.14,145.91 L211.88,145.75 L212.61,145.58 L213.34,145.4 L214.08,145.23 L214.81,145.05 L215.55,144.87 L216.28,144.68 L217.02,144.49 L217.75,144.3 L218.49,144.1 L219.22,143.9 L219.96,143.69 L220.7,143.48 L221.43,143.26 L222.16,143.04 L222.9,142.82 L223.63,142.59 L224.37,142.36 L225.11,142.12 L225.84,141.87 L226.57,141.62 L227.31,141.36 L228.05,141.1 L228.78,140.83 L229.51,140.56 L230.25,140.28 L230.99,139.99 L231.72,139.69 L232.46,139.39 L233.19,139.08 L233.92,138.76 L234.66,138.44 L235.4,138.1 L236.13,137.76 L236.86,137.4 L237.6,137.04 L238.33,136.67 L239.07,136.28 L239.81,135.89 L240.54,135.48 L241.27,135.06 L242.01,134.63 L242.75,134.19 L243.48,133.73 L244.22,133.26 L244.95,132.77 L245.69,132.27 L246.42,131.75 L247.15,131.21 L247.89,130.66 L248.62,130.09 L249.36,129.49 L250.1,128.88 L250.83,128.24 L251.56,127.58 L252.3,126.9 L253.04,126.18 L253.77,125.45 L254.5,124.68 L255.24,123.88 L255.97,123.04 L256.71,122.17 L257.44,121.27 L258.18,120.32 L258.91,119.33 L259.65,118.3 L260.38,117.21 L261.12,116.08 L261.86,114.88 L262.59,113.63 L263.32,112.31 L264.06,110.92 L264.79,109.45 L265.53,107.9 L266.26,106.26 L267,104.52" fill="none" stroke="#fa4545" stroke-width="1.3" stroke-linejoin="round" />
<path d="M46.5,131.42 L47.23,131.38 L47.97,131.34 L48.7,131.31 L49.44,131.27 L50.17,131.24 L50.91,131.2 L51.64,131.16 L52.38,131.13 L53.12,131.09 L53.85,131.05 L54.59,131.01 L55.32,130.98 L56.06,130.94 L56.79,130.9 L57.52,130.86 L58.26,130.82 L58.99,130.78 L59.73,130.74 L60.46,130.71 L61.2,130.67 L61.93,130.63 L62.67,130.58 L63.4,130.54 L64.14,130.5 L64.88,130.46 L65.61,130.42 L66.35,130.38 L67.08,130.34 L67.81,130.3 L68.55,130.25 L69.28,130.21 L70.02,130.17 L70.75,130.12 L71.49,130.08 L72.22,130.04 L72.96,129.99 L73.7,129.95 L74.43,129.9 L75.17,129.86 L75.9,129.81 L76.64,129.77 L77.37,129.72 L78.11,129.67 L78.84,129.63 L79.57,129.58 L80.31,129.53 L81.04,129.49 L81.78,129.44 L82.51,129.39 L83.25,129.34 L83.98,129.29 L84.72,129.24 L85.45,129.19 L86.19,129.14 L86.93,129.09 L87.66,129.04 L88.4,128.99 L89.13,128.94 L89.87,128.89 L90.6,128.83 L91.33,128.78 L92.07,128.73 L92.8,128.67 L93.54,128.62 L94.28,128.57 L95.01,128.51 L95.75,128.46 L96.48,128.4 L97.22,128.34 L97.95,128.29 L98.69,128.23 L99.42,128.17 L100.16,128.12 L100.89,128.06 L101.62,128 L102.36,127.94 L103.09,127.88 L103.83,127.82 L104.56,127.76 L105.3,127.7 L106.03,127.64 L106.77,127.58 L107.5,127.51 L108.24,127.45 L108.97,127.39 L109.71,127.32 L110.45,127.26 L111.18,127.19 L111.92,127.13 L112.65,127.06 L113.39,126.99 L114.12,126.93 L114.85,126.86 L115.59,126.79 L116.32,126.72 L117.06,126.65 L117.79,126.58 L118.53,126.51 L119.27,126.44 L120,126.37 L120.74,126.29 L121.47,126.22 L122.21,126.15 L122.94,126.07 L123.67,126 L124.41,125.92 L125.14,125.85 L125.88,125.77 L126.61,125.69 L127.35,125.61 L128.08,125.53 L128.82,125.45 L129.56,125.37 L130.29,125.29 L131.03,125.21 L131.76,125.12 L132.5,125.04 L133.23,124.96 L133.97,124.87 L134.7,124.78 L135.44,124.7 L136.17,124.61 L136.91,124.52 L137.64,124.43 L138.38,124.34 L139.11,124.25 L139.84,124.16 L140.58,124.06 L141.31,123.97 L142.05,123.88 L142.78,123.78 L143.52,123.68 L144.25,123.59 L144.99,123.49 L145.73,123.39 L146.46,123.29 L147.19,123.18 L147.93,123.08 L148.66,122.98 L149.4,122.87 L150.13,122.77 L150.87,122.66 L151.61,122.55 L152.34,122.44 L153.07,122.33 L153.81,122.22 L154.55,122.1 L155.28,121.99 L156.01,121.87 L156.75,121.76 L157.49,121.64 L158.22,121.52 L158.95,121.4 L159.69,121.28 L160.43,121.15 L161.16,121.03 L161.89,120.9 L162.63,120.77 L163.37,120.64 L164.1,120.51 L164.83,120.38 L165.57,120.25 L166.31,120.11 L167.04,119.97 L167.78,119.84 L168.51,119.7 L169.25,119.55 L169.98,119.41 L170.72,119.26 L171.45,119.12 L172.19,118.97 L172.92,118.82 L173.66,118.66 L174.39,118.51 L175.12,118.35 L175.86,118.19 L176.59,118.03 L177.33,117.87 L178.06,117.7 L178.8,117.54 L179.54,117.37 L180.27,117.19 L181,117.02 L181.74,116.84 L182.47,116.66 L183.21,116.48 L183.94,116.3 L184.68,116.11 L185.41,115.92 L186.15,115.73 L186.89,115.54 L187.62,115.34 L188.35,115.14 L189.09,114.94 L189.83,114.73 L190.56,114.52 L191.29,114.31 L192.03,114.1 L192.76,113.88 L193.5,113.66 L194.24,113.43 L194.97,113.2 L195.7,112.97 L196.44,112.74 L197.18,112.5 L197.91,112.25 L198.64,112.01 L199.38,111.76 L200.12,111.5 L200.85,111.24 L201.59,110.98 L202.32,110.71 L203.05,110.44 L203.79,110.16 L204.53,109.88 L205.26,109.59 L206,109.3 L206.73,109.01 L207.47,108.7 L208.2,108.4 L208.94,108.08 L209.67,107.77 L210.41,107.44 L211.14,107.11 L211.88,106.78 L212.61,106.43 L213.34,106.09 L214.08,105.73 L214.81,105.37 L215.55,105 L216.28,104.62 L217.02,104.24 L217.75,103.85 L218.49,103.45 L219.22,103.04 L219.96,102.62 L220.7,102.2 L221.43,101.76 L222.16,101.32 L222.9,100.87 L223.63,100.4 L224.37,99.93 L225.11,99.45 L225.84,98.95 L226.57,98.45 L227.31,97.93 L228.05,97.4 L228.78,96.86 L229.51,96.3 L230.25,95.74 L230.99,95.15 L231.72,94.56 L232.46,93.95 L233.19,93.32 L233.92,92.68 L234.66,92.02 L235.4,91.34 L236.13,90.65 L236.86,89.93 L237.6,89.2 L238.33,88.45 L239.07,87.67 L239.81,86.87 L240.54,86.05 L241.27,85.21 L242.01,84.34 L242.75,83.44 L243.48,82.52 L244.22,81.57 L244.95,80.58 L245.69,79.57 L246.42,78.52 L247.15,77.44 L247.89,76.32 L248.62,75.16 L249.36,73.97 L250.1,72.72 L250.83,71.44 L251.56,70.11 L252.3,68.72 L253.04,67.29 L253.77,65.79 L254.5,64.24 L255.24,62.63 L255.97,60.94 L256.71,59.19 L257.44,57.36 L258.18,55.45 L258.91,53.45 L259.65,51.36 L260.38,49.17 L261.12,46.88 L261.86,44.47 L262.59,41.94 L263.32,39.28 L264.06,36.47 L264.79,33.51 L265.53,30.38 L266.26,27.07 L267,23.56" fill="none" stroke="#555555" stroke-width="1.15" stroke-linejoin="round" />
<rect x="46.5" y="6.5" width="220.5" height="177.5" fill="none" stroke="#3c3c3c" stroke-width="1.3"/>
<line x1="46.5" y1="184" x2="46.5" y2="180.6" stroke="#3c3c3c" stroke-width="0.9" />
<line x1="46.5" y1="6.5" x2="46.5" y2="9.9" stroke="#3c3c3c" stroke-width="0.9" />
<line x1="68.55" y1="184" x2="68.55" y2="182.13" stroke="#3c3c3c" stroke-width="0.9" />
<line x1="68.55" y1="6.5" x2="68.55" y2="8.37" stroke="#3c3c3c" stroke-width="0.9" />
<line x1="90.6" y1="184" x2="90.6" y2="180.6" stroke="#3c3c3c" stroke-width="0.9" />
<line x1="90.6" y1="6.5" x2="90.6" y2="9.9" stroke="#3c3c3c" stroke-width="0.9" />
<line x1="112.65" y1="184" x2="112.65" y2="182.13" stroke="#3c3c3c" stroke-width="0.9" />
<line x1="112.65" y1="6.5" x2="112.65" y2="8.37" stroke="#3c3c3c" stroke-width="0.9" />
<line x1="134.7" y1="184" x2="134.7" y2="180.6" stroke="#3c3c3c" stroke-width="0.9" />
<line x1="134.7" y1="6.5" x2="134.7" y2="9.9" stroke="#3c3c3c" stroke-width="0.9" />
<line x1="156.75" y1="184" x2="156.75" y2="182.13" stroke="#3c3c3c" stroke-width="0.9" />
<line x1="156.75" y1="6.5" x2="156.75" y2="8.37" stroke="#3c3c3c" stroke-width="0.9" />
<line x1="178.8" y1="184" x2="178.8" y2="180.6" stroke="#3c3c3c" stroke-width="0.9" />
<line x1="178.8" y1="6.5" x2="178.8" y2="9.9" stroke="#3c3c3c" stroke-width="0.9" />
<line x1="200.85" y1="184" x2="200.85" y2="182.13" stroke="#3c3c3c" stroke-width="0.9" />
<line x1="200.85" y1="6.5" x2="200.85" y2="8.37" stroke="#3c3c3c" stroke-width="0.9" />
<line x1="222.9" y1="184" x2="222.9" y2="180.6" stroke="#3c3c3c" stroke-width="0.9" />
<line x1="222.9" y1="6.5" x2="222.9" y2="9.9" stroke="#3c3c3c" stroke-width="0.9" />
<line x1="244.95" y1="184" x2="244.95" y2="182.13" stroke="#3c3c3c" stroke-width="0.9" />
<line x1="244.95" y1="6.5" x2="244.95" y2="8.37" stroke="#3c3c3c" stroke-width="0.9" />
<line x1="267" y1="184" x2="267" y2="180.6" stroke="#3c3c3c" stroke-width="0.9" />
<line x1="267" y1="6.5" x2="267" y2="9.9" stroke="#3c3c3c" stroke-width="0.9" />
<line x1="46.5" y1="184" x2="49.9" y2="184" stroke="#3c3c3c" stroke-width="0.9" />
<line x1="267" y1="184" x2="263.6" y2="184" stroke="#3c3c3c" stroke-width="0.9" />
<line x1="46.5" y1="161.81" x2="48.37" y2="161.81" stroke="#3c3c3c" stroke-width="0.9" />
<line x1="267" y1="161.81" x2="265.13" y2="161.81" stroke="#3c3c3c" stroke-width="0.9" />
<line x1="46.5" y1="139.62" x2="49.9" y2="139.62" stroke="#3c3c3c" stroke-width="0.9" />
<line x1="267" y1="139.62" x2="263.6" y2="139.62" stroke="#3c3c3c" stroke-width="0.9" />
<line x1="46.5" y1="117.44" x2="48.37" y2="117.44" stroke="#3c3c3c" stroke-width="0.9" />
<line x1="267" y1="117.44" x2="265.13" y2="117.44" stroke="#3c3c3c" stroke-width="0.9" />
<line x1="46.5" y1="95.25" x2="49.9" y2="95.25" stroke="#3c3c3c" stroke-width="0.9" />
<line x1="267" y1="95.25" x2="263.6" y2="95.25" stroke="#3c3c3c" stroke-width="0.9" />
<line x1="46.5" y1="73.06" x2="48.37" y2="73.06" stroke="#3c3c3c" stroke-width="0.9" />
<line x1="267" y1="73.06" x2="265.13" y2="73.06" stroke="#3c3c3c" stroke-width="0.9" />
<line x1="46.5" y1="50.88" x2="49.9" y2="50.88" stroke="#3c3c3c" stroke-width="0.9" />
<line x1="267" y1="50.88" x2="263.6" y2="50.88" stroke="#3c3c3c" stroke-width="0.9" />
<line x1="46.5" y1="28.69" x2="48.37" y2="28.69" stroke="#3c3c3c" stroke-width="0.9" />
<line x1="267" y1="28.69" x2="265.13" y2="28.69" stroke="#3c3c3c" stroke-width="0.9" />
<line x1="46.5" y1="6.5" x2="49.9" y2="6.5" stroke="#3c3c3c" stroke-width="0.9" />
<line x1="267" y1="6.5" x2="263.6" y2="6.5" stroke="#3c3c3c" stroke-width="0.9" />
<text x="46.5" y="194.41" font-size="7.3" text-anchor="middle" fill="#262626" stroke="#262626" >-5</text>
<text x="90.6" y="194.41" font-size="7.3" text-anchor="middle" fill="#262626" stroke="#262626" >-4</text>
<text x="134.7" y="194.41" font-size="7.3" text-anchor="middle" fill="#262626" stroke="#262626" >-3</text>
<text x="178.8" y="194.41" font-size="7.3" text-anchor="middle" fill="#262626" stroke="#262626" >-2</text>
<text x="222.9" y="194.41" font-size="7.3" text-anchor="middle" fill="#262626" stroke="#262626" >-1</text>
<text x="267" y="194.41" font-size="7.3" text-anchor="middle" fill="#262626" stroke="#262626" >0</text>
<text x="42.5" y="142.74" font-size="7.3" text-anchor="end" fill="#262626" stroke="#262626">1x10<tspan font-size="5.3" dy="-3.21" dx="0.3" style="stroke-width:0.18px;letter-spacing:0.2px">-11</tspan></text>
<text x="42.5" y="98.36" font-size="7.3" text-anchor="end" fill="#262626" stroke="#262626">2x10<tspan font-size="5.3" dy="-3.21" dx="0.3" style="stroke-width:0.18px;letter-spacing:0.2px">-11</tspan></text>
<text x="42.5" y="53.99" font-size="7.3" text-anchor="end" fill="#262626" stroke="#262626">3x10<tspan font-size="5.3" dy="-3.21" dx="0.3" style="stroke-width:0.18px;letter-spacing:0.2px">-11</tspan></text>
<text x="42.5" y="9.71" font-size="7.3" text-anchor="end" fill="#262626" stroke="#262626">4x10<tspan font-size="5.3" dy="-3.21" dx="0.3" style="stroke-width:0.18px;letter-spacing:0.2px">-11</tspan></text>
<text x="42.2" y="186.81" font-size="7.3" text-anchor="end" fill="#262626" stroke="#262626" >0</text>
<text x="152.3" y="207.19" font-size="9.2" text-anchor="middle" fill="#262626" stroke="#262626" >Bias (V)</text>
<text transform="translate(12.6,95.6) rotate(-90)" x="0" y="0" font-size="9.6" text-anchor="middle" fill="#262626" stroke="#262626">Capacitance (F)</text>
<line x1="54.5" y1="18.6" x2="73.7" y2="18.6" stroke="#555555" stroke-width="1.2" />
<text x="75.9" y="21.54" font-size="8.2" text-anchor="start" fill="#262626" stroke="#262626" >500μm</text>
<line x1="54.5" y1="28.8" x2="73.7" y2="28.8" stroke="#fa4545" stroke-width="1.3" />
<text x="75.9" y="31.74" font-size="8.2" text-anchor="start" fill="#262626" stroke="#262626" >350μm</text>
<line x1="54.5" y1="39" x2="73.7" y2="39" stroke="#3a88e6" stroke-width="1.6" />
<text x="75.9" y="41.94" font-size="8.2" text-anchor="start" fill="#262626" stroke="#262626" >250μm</text>
<line x1="54.5" y1="49.2" x2="73.7" y2="49.2" stroke="#27b07c" stroke-width="1.5" />
<text x="75.9" y="52.14" font-size="8.2" text-anchor="start" fill="#262626" stroke="#262626" >180μm</text>
<line x1="54.5" y1="59.4" x2="73.7" y2="59.4" stroke="#c77ee8" stroke-width="1.2" />
<text x="75.9" y="62.34" font-size="8.2" text-anchor="start" fill="#262626" stroke="#262626" >130μm</text>
<line x1="54.5" y1="69.6" x2="73.7" y2="69.6" stroke="#e8a62a" stroke-width="1.2" />
<text x="75.9" y="72.54" font-size="8.2" text-anchor="start" fill="#262626" stroke="#262626" >100μm</text>
<line x1="54.5" y1="79.8" x2="73.7" y2="79.8" stroke="#22d4d4" stroke-width="1.3" />
<text x="75.9" y="82.74" font-size="8.2" text-anchor="start" fill="#262626" stroke="#262626" >70μm</text>
<text x="15.6" y="203.1" font-size="17" fill="#1a1a1a" stroke="#1a1a1a" style="stroke-width:0.1px">(<tspan font-size="14.8">a</tspan><tspan dx="0.5">)</tspan></text>
<line x1="324.6" y1="6.7" x2="324.6" y2="184.3" stroke="#bcbcbc" stroke-width="0.8" />
<line x1="366.58" y1="6.7" x2="366.58" y2="184.3" stroke="#bcbcbc" stroke-width="0.8" />
<line x1="408.56" y1="6.7" x2="408.56" y2="184.3" stroke="#bcbcbc" stroke-width="0.8" />
<line x1="450.54" y1="6.7" x2="450.54" y2="184.3" stroke="#bcbcbc" stroke-width="0.8" />
<line x1="492.52" y1="6.7" x2="492.52" y2="184.3" stroke="#bcbcbc" stroke-width="0.8" />
<line x1="534.5" y1="6.7" x2="534.5" y2="184.3" stroke="#bcbcbc" stroke-width="0.8" />
<line x1="324.6" y1="174.3" x2="545" y2="174.3" stroke="#bcbcbc" stroke-width="0.8" />
<line x1="324.6" y1="154.56" x2="545" y2="154.56" stroke="#bcbcbc" stroke-width="0.8" />
<line x1="324.6" y1="134.83" x2="545" y2="134.83" stroke="#bcbcbc" stroke-width="0.8" />
<line x1="324.6" y1="115.09" x2="545" y2="115.09" stroke="#bcbcbc" stroke-width="0.8" />
<line x1="324.6" y1="95.35" x2="545" y2="95.35" stroke="#bcbcbc" stroke-width="0.8" />
<line x1="324.6" y1="75.61" x2="545" y2="75.61" stroke="#bcbcbc" stroke-width="0.8" />
<line x1="324.6" y1="55.88" x2="545" y2="55.88" stroke="#bcbcbc" stroke-width="0.8" />
<line x1="324.6" y1="36.14" x2="545" y2="36.14" stroke="#bcbcbc" stroke-width="0.8" />
<line x1="324.6" y1="16.4" x2="545" y2="16.4" stroke="#bcbcbc" stroke-width="0.8" />
<rect x="324.6" y="6.7" width="220.4" height="177.6" fill="none" stroke="#3c3c3c" stroke-width="1.3"/>
<line x1="324.6" y1="184.3" x2="324.6" y2="180.9" stroke="#3c3c3c" stroke-width="0.9" />
<line x1="324.6" y1="6.7" x2="324.6" y2="10.1" stroke="#3c3c3c" stroke-width="0.9" />
<line x1="345.59" y1="184.3" x2="345.59" y2="182.43" stroke="#3c3c3c" stroke-width="0.9" />
<line x1="345.59" y1="6.7" x2="345.59" y2="8.57" stroke="#3c3c3c" stroke-width="0.9" />
<line x1="366.58" y1="184.3" x2="366.58" y2="180.9" stroke="#3c3c3c" stroke-width="0.9" />
<line x1="366.58" y1="6.7" x2="366.58" y2="10.1" stroke="#3c3c3c" stroke-width="0.9" />
<line x1="387.57" y1="184.3" x2="387.57" y2="182.43" stroke="#3c3c3c" stroke-width="0.9" />
<line x1="387.57" y1="6.7" x2="387.57" y2="8.57" stroke="#3c3c3c" stroke-width="0.9" />
<line x1="408.56" y1="184.3" x2="408.56" y2="180.9" stroke="#3c3c3c" stroke-width="0.9" />
<line x1="408.56" y1="6.7" x2="408.56" y2="10.1" stroke="#3c3c3c" stroke-width="0.9" />
<line x1="429.55" y1="184.3" x2="429.55" y2="182.43" stroke="#3c3c3c" stroke-width="0.9" />
<line x1="429.55" y1="6.7" x2="429.55" y2="8.57" stroke="#3c3c3c" stroke-width="0.9" />
<line x1="450.54" y1="184.3" x2="450.54" y2="180.9" stroke="#3c3c3c" stroke-width="0.9" />
<line x1="450.54" y1="6.7" x2="450.54" y2="10.1" stroke="#3c3c3c" stroke-width="0.9" />
<line x1="471.53" y1="184.3" x2="471.53" y2="182.43" stroke="#3c3c3c" stroke-width="0.9" />
<line x1="471.53" y1="6.7" x2="471.53" y2="8.57" stroke="#3c3c3c" stroke-width="0.9" />
<line x1="492.52" y1="184.3" x2="492.52" y2="180.9" stroke="#3c3c3c" stroke-width="0.9" />
<line x1="492.52" y1="6.7" x2="492.52" y2="10.1" stroke="#3c3c3c" stroke-width="0.9" />
<line x1="513.51" y1="184.3" x2="513.51" y2="182.43" stroke="#3c3c3c" stroke-width="0.9" />
<line x1="513.51" y1="6.7" x2="513.51" y2="8.57" stroke="#3c3c3c" stroke-width="0.9" />
<line x1="534.5" y1="184.3" x2="534.5" y2="180.9" stroke="#3c3c3c" stroke-width="0.9" />
<line x1="534.5" y1="6.7" x2="534.5" y2="10.1" stroke="#3c3c3c" stroke-width="0.9" />
<line x1="324.6" y1="174.3" x2="328" y2="174.3" stroke="#3c3c3c" stroke-width="0.9" />
<line x1="545" y1="174.3" x2="541.6" y2="174.3" stroke="#3c3c3c" stroke-width="0.9" />
<line x1="324.6" y1="164.43" x2="326.47" y2="164.43" stroke="#3c3c3c" stroke-width="0.9" />
<line x1="545" y1="164.43" x2="543.13" y2="164.43" stroke="#3c3c3c" stroke-width="0.9" />
<line x1="324.6" y1="154.56" x2="328" y2="154.56" stroke="#3c3c3c" stroke-width="0.9" />
<line x1="545" y1="154.56" x2="541.6" y2="154.56" stroke="#3c3c3c" stroke-width="0.9" />
<line x1="324.6" y1="144.69" x2="326.47" y2="144.69" stroke="#3c3c3c" stroke-width="0.9" />
<line x1="545" y1="144.69" x2="543.13" y2="144.69" stroke="#3c3c3c" stroke-width="0.9" />
<line x1="324.6" y1="134.83" x2="328" y2="134.83" stroke="#3c3c3c" stroke-width="0.9" />
<line x1="545" y1="134.83" x2="541.6" y2="134.83" stroke="#3c3c3c" stroke-width="0.9" />
<line x1="324.6" y1="124.96" x2="326.47" y2="124.96" stroke="#3c3c3c" stroke-width="0.9" />
<line x1="545" y1="124.96" x2="543.13" y2="124.96" stroke="#3c3c3c" stroke-width="0.9" />
<line x1="324.6" y1="115.09" x2="328" y2="115.09" stroke="#3c3c3c" stroke-width="0.9" />
<line x1="545" y1="115.09" x2="541.6" y2="115.09" stroke="#3c3c3c" stroke-width="0.9" />
<line x1="324.6" y1="105.22" x2="326.47" y2="105.22" stroke="#3c3c3c" stroke-width="0.9" />
<line x1="545" y1="105.22" x2="543.13" y2="105.22" stroke="#3c3c3c" stroke-width="0.9" />
<line x1="324.6" y1="95.35" x2="328" y2="95.35" stroke="#3c3c3c" stroke-width="0.9" />
<line x1="545" y1="95.35" x2="541.6" y2="95.35" stroke="#3c3c3c" stroke-width="0.9" />
<line x1="324.6" y1="85.48" x2="326.47" y2="85.48" stroke="#3c3c3c" stroke-width="0.9" />
<line x1="545" y1="85.48" x2="543.13" y2="85.48" stroke="#3c3c3c" stroke-width="0.9" />
<line x1="324.6" y1="75.61" x2="328" y2="75.61" stroke="#3c3c3c" stroke-width="0.9" />
<line x1="545" y1="75.61" x2="541.6" y2="75.61" stroke="#3c3c3c" stroke-width="0.9" />
<line x1="324.6" y1="65.74" x2="326.47" y2="65.74" stroke="#3c3c3c" stroke-width="0.9" />
<line x1="545" y1="65.74" x2="543.13" y2="65.74" stroke="#3c3c3c" stroke-width="0.9" />
<line x1="324.6" y1="55.88" x2="328" y2="55.88" stroke="#3c3c3c" stroke-width="0.9" />
<line x1="545" y1="55.88" x2="541.6" y2="55.88" stroke="#3c3c3c" stroke-width="0.9" />
<line x1="324.6" y1="46.01" x2="326.47" y2="46.01" stroke="#3c3c3c" stroke-width="0.9" />
<line x1="545" y1="46.01" x2="543.13" y2="46.01" stroke="#3c3c3c" stroke-width="0.9" />
<line x1="324.6" y1="36.14" x2="328" y2="36.14" stroke="#3c3c3c" stroke-width="0.9" />
<line x1="545" y1="36.14" x2="541.6" y2="36.14" stroke="#3c3c3c" stroke-width="0.9" />
<line x1="324.6" y1="26.27" x2="326.47" y2="26.27" stroke="#3c3c3c" stroke-width="0.9" />
<line x1="545" y1="26.27" x2="543.13" y2="26.27" stroke="#3c3c3c" stroke-width="0.9" />
<line x1="324.6" y1="16.4" x2="328" y2="16.4" stroke="#3c3c3c" stroke-width="0.9" />
<line x1="545" y1="16.4" x2="541.6" y2="16.4" stroke="#3c3c3c" stroke-width="0.9" />
<text x="324.6" y="194.02" font-size="7.6" text-anchor="middle" fill="#262626" stroke="#262626" >0</text>
<text x="366.58" y="194.02" font-size="7.6" text-anchor="middle" fill="#262626" stroke="#262626" >40,000</text>
<text x="408.56" y="194.02" font-size="7.6" text-anchor="middle" fill="#262626" stroke="#262626" >80,000</text>
<text x="450.54" y="194.02" font-size="7.6" text-anchor="middle" fill="#262626" stroke="#262626" >120,000</text>
<text x="492.52" y="194.02" font-size="7.6" text-anchor="middle" fill="#262626" stroke="#262626" >160,000</text>
<text x="534.5" y="194.02" font-size="7.6" text-anchor="middle" fill="#262626" stroke="#262626" >200,000</text>
<text x="320.4" y="176.95" font-size="7.4" text-anchor="end" fill="#262626" stroke="#262626" >0</text>
<text x="320.2" y="157.18" font-size="7.3" text-anchor="end" fill="#262626" stroke="#262626">2x10<tspan font-size="5.3" dy="-3.21" dx="0.3" style="stroke-width:0.18px;letter-spacing:0.2px">-12</tspan></text>
<text x="320.2" y="137.44" font-size="7.3" text-anchor="end" fill="#262626" stroke="#262626">4x10<tspan font-size="5.3" dy="-3.21" dx="0.3" style="stroke-width:0.18px;letter-spacing:0.2px">-12</tspan></text>
<text x="320.2" y="117.7" font-size="7.3" text-anchor="end" fill="#262626" stroke="#262626">6x10<tspan font-size="5.3" dy="-3.21" dx="0.3" style="stroke-width:0.18px;letter-spacing:0.2px">-12</tspan></text>
<text x="320.2" y="97.96" font-size="7.3" text-anchor="end" fill="#262626" stroke="#262626">8x10<tspan font-size="5.3" dy="-3.21" dx="0.3" style="stroke-width:0.18px;letter-spacing:0.2px">-12</tspan></text>
<text x="320.2" y="78.23" font-size="7.3" text-anchor="end" fill="#262626" stroke="#262626">1x10<tspan font-size="5.3" dy="-3.21" dx="0.3" style="stroke-width:0.18px;letter-spacing:0.2px">-11</tspan></text>
<text x="320.2" y="58.49" font-size="7.3" text-anchor="end" fill="#262626" stroke="#262626">1x10<tspan font-size="5.3" dy="-3.21" dx="0.3" style="stroke-width:0.18px;letter-spacing:0.2px">-11</tspan></text>
<text x="320.2" y="38.75" font-size="7.3" text-anchor="end" fill="#262626" stroke="#262626">1x10<tspan font-size="5.3" dy="-3.21" dx="0.3" style="stroke-width:0.18px;letter-spacing:0.2px">-11</tspan></text>
<text x="320.2" y="19.01" font-size="7.3" text-anchor="end" fill="#262626" stroke="#262626">2x10<tspan font-size="5.3" dy="-3.21" dx="0.3" style="stroke-width:0.18px;letter-spacing:0.2px">-11</tspan></text>
<text x="433.5" y="208.79" font-size="9.2" text-anchor="middle" fill="#262626" stroke="#262626" >Device area (μm<tspan font-size="6.3" dy="-3.6" dx="0.4" style="stroke-width:0.15px">2</tspan><tspan dy="3.6" dx="0.3">)</tspan></text>
<text transform="translate(292.7,95.2) rotate(-90)" x="0" y="0" font-size="9.2" text-anchor="middle" fill="#262626" stroke="#262626">Capacitance (F)</text>
<path d="M328.64,170.76 L530.67,50.64" fill="none" stroke="#ff2a2a" stroke-width="1.3" stroke-linejoin="round" />
<path d="M328.64,170.23 L530.67,23.6" fill="none" stroke="#2a2aff" stroke-width="1.3" stroke-linejoin="round" />
<circle cx="328.64" cy="170.76" r="2.45" fill="url(#gr)"/>
<circle cx="332.84" cy="168.26" r="2.45" fill="url(#gr)"/>
<circle cx="338.53" cy="164.88" r="2.45" fill="url(#gr)"/>
<circle cx="351.31" cy="157.29" r="2.45" fill="url(#gr)"/>
<circle cx="376.12" cy="142.53" r="2.45" fill="url(#gr)"/>
<circle cx="425.57" cy="113.13" r="2.45" fill="url(#gr)"/>
<circle cx="530.67" cy="50.64" r="2.45" fill="url(#gr)"/>
<circle cx="328.64" cy="170.23" r="2.45" fill="url(#gb)"/>
<circle cx="332.84" cy="167.18" r="2.45" fill="url(#gb)"/>
<circle cx="338.53" cy="163.05" r="2.45" fill="url(#gb)"/>
<circle cx="351.31" cy="153.78" r="2.45" fill="url(#gb)"/>
<circle cx="376.12" cy="135.77" r="2.45" fill="url(#gb)"/>
<circle cx="425.57" cy="99.88" r="2.45" fill="url(#gb)"/>
<circle cx="530.67" cy="23.6" r="2.45" fill="url(#gb)"/>
<circle cx="377.2" cy="21.8" r="2.6" fill="url(#gr)"/>
<circle cx="377.2" cy="32.1" r="2.6" fill="url(#gb)"/>
<text x="389.3" y="24.81" font-size="8.4" text-anchor="start" fill="#262626" stroke="#262626" >−4V</text>
<text x="389.3" y="35.11" font-size="8.4" text-anchor="start" fill="#262626" stroke="#262626" >−2V</text>
<text x="356.7" y="88.44" font-size="8.2" text-anchor="start" fill="#2b2bff" stroke="#2b2bff" style="stroke-width:0.12px">Intercept: 1.146×10<tspan font-size="5.9" dy="-3.2" dx="0.3" style="stroke-width:0.1px">−13</tspan></text>
<text x="432.6" y="123.74" font-size="8.2" text-anchor="start" fill="#ff2a2a" stroke="#ff2a2a" style="stroke-width:0.12px">Intercept: 1.148×10<tspan font-size="5.9" dy="-3.2" dx="0.3" style="stroke-width:0.1px">−13</tspan></text>
<text x="279.2" y="203.0" font-size="17" fill="#1a1a1a" stroke="#1a1a1a" style="stroke-width:0.1px">(<tspan font-size="14.8">b</tspan><tspan dx="0.5">)</tspan></text>
<rect x="42.5" y="221.7" width="221.8" height="178.1" fill="none" stroke="#3c3c3c" stroke-width="1.3"/>
<line x1="60.8" y1="399.8" x2="60.8" y2="396.4" stroke="#3c3c3c" stroke-width="0.9" />
<line x1="60.8" y1="221.7" x2="60.8" y2="225.1" stroke="#3c3c3c" stroke-width="0.9" />
<line x1="79.28" y1="399.8" x2="79.28" y2="397.93" stroke="#3c3c3c" stroke-width="0.9" />
<line x1="79.28" y1="221.7" x2="79.28" y2="223.57" stroke="#3c3c3c" stroke-width="0.9" />
<line x1="97.76" y1="399.8" x2="97.76" y2="396.4" stroke="#3c3c3c" stroke-width="0.9" />
<line x1="97.76" y1="221.7" x2="97.76" y2="225.1" stroke="#3c3c3c" stroke-width="0.9" />
<line x1="116.24" y1="399.8" x2="116.24" y2="397.93" stroke="#3c3c3c" stroke-width="0.9" />
<line x1="116.24" y1="221.7" x2="116.24" y2="223.57" stroke="#3c3c3c" stroke-width="0.9" />
<line x1="134.72" y1="399.8" x2="134.72" y2="396.4" stroke="#3c3c3c" stroke-width="0.9" />
<line x1="134.72" y1="221.7" x2="134.72" y2="225.1" stroke="#3c3c3c" stroke-width="0.9" />
<line x1="153.2" y1="399.8" x2="153.2" y2="397.93" stroke="#3c3c3c" stroke-width="0.9" />
<line x1="153.2" y1="221.7" x2="153.2" y2="223.57" stroke="#3c3c3c" stroke-width="0.9" />
<line x1="171.68" y1="399.8" x2="171.68" y2="396.4" stroke="#3c3c3c" stroke-width="0.9" />
<line x1="171.68" y1="221.7" x2="171.68" y2="225.1" stroke="#3c3c3c" stroke-width="0.9" />
<line x1="190.16" y1="399.8" x2="190.16" y2="397.93" stroke="#3c3c3c" stroke-width="0.9" />
<line x1="190.16" y1="221.7" x2="190.16" y2="223.57" stroke="#3c3c3c" stroke-width="0.9" />
<line x1="208.64" y1="399.8" x2="208.64" y2="396.4" stroke="#3c3c3c" stroke-width="0.9" />
<line x1="208.64" y1="221.7" x2="208.64" y2="225.1" stroke="#3c3c3c" stroke-width="0.9" />
<line x1="227.12" y1="399.8" x2="227.12" y2="397.93" stroke="#3c3c3c" stroke-width="0.9" />
<line x1="227.12" y1="221.7" x2="227.12" y2="223.57" stroke="#3c3c3c" stroke-width="0.9" />
<line x1="245.6" y1="399.8" x2="245.6" y2="396.4" stroke="#3c3c3c" stroke-width="0.9" />
<line x1="245.6" y1="221.7" x2="245.6" y2="225.1" stroke="#3c3c3c" stroke-width="0.9" />
<line x1="42.5" y1="400.14" x2="44.37" y2="400.14" stroke="#3c3c3c" stroke-width="0.9" />
<line x1="264.3" y1="400.14" x2="262.43" y2="400.14" stroke="#3c3c3c" stroke-width="0.9" />
<line x1="42.5" y1="389" x2="45.9" y2="389" stroke="#3c3c3c" stroke-width="0.9" />
<line x1="264.3" y1="389" x2="260.9" y2="389" stroke="#3c3c3c" stroke-width="0.9" />
<line x1="42.5" y1="377.86" x2="44.37" y2="377.86" stroke="#3c3c3c" stroke-width="0.9" />
<line x1="264.3" y1="377.86" x2="262.43" y2="377.86" stroke="#3c3c3c" stroke-width="0.9" />
<line x1="42.5" y1="366.73" x2="45.9" y2="366.73" stroke="#3c3c3c" stroke-width="0.9" />
<line x1="264.3" y1="366.73" x2="260.9" y2="366.73" stroke="#3c3c3c" stroke-width="0.9" />
<line x1="42.5" y1="355.59" x2="44.37" y2="355.59" stroke="#3c3c3c" stroke-width="0.9" />
<line x1="264.3" y1="355.59" x2="262.43" y2="355.59" stroke="#3c3c3c" stroke-width="0.9" />
<line x1="42.5" y1="344.46" x2="45.9" y2="344.46" stroke="#3c3c3c" stroke-width="0.9" />
<line x1="264.3" y1="344.46" x2="260.9" y2="344.46" stroke="#3c3c3c" stroke-width="0.9" />
<line x1="42.5" y1="333.32" x2="44.37" y2="333.32" stroke="#3c3c3c" stroke-width="0.9" />
<line x1="264.3" y1="333.32" x2="262.43" y2="333.32" stroke="#3c3c3c" stroke-width="0.9" />
<line x1="42.5" y1="322.19" x2="45.9" y2="322.19" stroke="#3c3c3c" stroke-width="0.9" />
<line x1="264.3" y1="322.19" x2="260.9" y2="322.19" stroke="#3c3c3c" stroke-width="0.9" />
<line x1="42.5" y1="311.05" x2="44.37" y2="311.05" stroke="#3c3c3c" stroke-width="0.9" />
<line x1="264.3" y1="311.05" x2="262.43" y2="311.05" stroke="#3c3c3c" stroke-width="0.9" />
<line x1="42.5" y1="299.91" x2="45.9" y2="299.91" stroke="#3c3c3c" stroke-width="0.9" />
<line x1="264.3" y1="299.91" x2="260.9" y2="299.91" stroke="#3c3c3c" stroke-width="0.9" />
<line x1="42.5" y1="288.78" x2="44.37" y2="288.78" stroke="#3c3c3c" stroke-width="0.9" />
<line x1="264.3" y1="288.78" x2="262.43" y2="288.78" stroke="#3c3c3c" stroke-width="0.9" />
<line x1="42.5" y1="277.64" x2="45.9" y2="277.64" stroke="#3c3c3c" stroke-width="0.9" />
<line x1="264.3" y1="277.64" x2="260.9" y2="277.64" stroke="#3c3c3c" stroke-width="0.9" />
<line x1="42.5" y1="266.51" x2="44.37" y2="266.51" stroke="#3c3c3c" stroke-width="0.9" />
<line x1="264.3" y1="266.51" x2="262.43" y2="266.51" stroke="#3c3c3c" stroke-width="0.9" />
<line x1="42.5" y1="255.37" x2="45.9" y2="255.37" stroke="#3c3c3c" stroke-width="0.9" />
<line x1="264.3" y1="255.37" x2="260.9" y2="255.37" stroke="#3c3c3c" stroke-width="0.9" />
<line x1="42.5" y1="244.24" x2="44.37" y2="244.24" stroke="#3c3c3c" stroke-width="0.9" />
<line x1="264.3" y1="244.24" x2="262.43" y2="244.24" stroke="#3c3c3c" stroke-width="0.9" />
<line x1="42.5" y1="233.1" x2="45.9" y2="233.1" stroke="#3c3c3c" stroke-width="0.9" />
<line x1="264.3" y1="233.1" x2="260.9" y2="233.1" stroke="#3c3c3c" stroke-width="0.9" />
<line x1="42.5" y1="221.96" x2="44.37" y2="221.96" stroke="#3c3c3c" stroke-width="0.9" />
<line x1="264.3" y1="221.96" x2="262.43" y2="221.96" stroke="#3c3c3c" stroke-width="0.9" />
<text x="60.8" y="410.32" font-size="7.6" text-anchor="middle" fill="#262626" stroke="#262626" >-0.5</text>
<text x="97.76" y="410.32" font-size="7.6" text-anchor="middle" fill="#262626" stroke="#262626" >-0.4</text>
<text x="134.72" y="410.32" font-size="7.6" text-anchor="middle" fill="#262626" stroke="#262626" >-0.3</text>
<text x="171.68" y="410.32" font-size="7.6" text-anchor="middle" fill="#262626" stroke="#262626" >-0.2</text>
<text x="208.64" y="410.32" font-size="7.6" text-anchor="middle" fill="#262626" stroke="#262626" >-0.1</text>
<text x="245.6" y="410.32" font-size="7.6" text-anchor="middle" fill="#262626" stroke="#262626" >0.0</text>
<text x="38.5" y="391.61" font-size="7.3" text-anchor="end" fill="#262626" stroke="#262626">1x10<tspan font-size="5.3" dy="-3.21" dx="0.3" style="stroke-width:0.18px;letter-spacing:0.2px">21</tspan></text>
<text x="38.5" y="369.34" font-size="7.3" text-anchor="end" fill="#262626" stroke="#262626">2x10<tspan font-size="5.3" dy="-3.21" dx="0.3" style="stroke-width:0.18px;letter-spacing:0.2px">21</tspan></text>
<text x="38.5" y="347.07" font-size="7.3" text-anchor="end" fill="#262626" stroke="#262626">3x10<tspan font-size="5.3" dy="-3.21" dx="0.3" style="stroke-width:0.18px;letter-spacing:0.2px">21</tspan></text>
<text x="38.5" y="324.8" font-size="7.3" text-anchor="end" fill="#262626" stroke="#262626">4x10<tspan font-size="5.3" dy="-3.21" dx="0.3" style="stroke-width:0.18px;letter-spacing:0.2px">21</tspan></text>
<text x="38.5" y="302.53" font-size="7.3" text-anchor="end" fill="#262626" stroke="#262626">5x10<tspan font-size="5.3" dy="-3.21" dx="0.3" style="stroke-width:0.18px;letter-spacing:0.2px">21</tspan></text>
<text x="38.5" y="280.26" font-size="7.3" text-anchor="end" fill="#262626" stroke="#262626">6x10<tspan font-size="5.3" dy="-3.21" dx="0.3" style="stroke-width:0.18px;letter-spacing:0.2px">21</tspan></text>
<text x="38.5" y="257.98" font-size="7.3" text-anchor="end" fill="#262626" stroke="#262626">7x10<tspan font-size="5.3" dy="-3.21" dx="0.3" style="stroke-width:0.18px;letter-spacing:0.2px">21</tspan></text>
<text x="38.5" y="235.71" font-size="7.3" text-anchor="end" fill="#262626" stroke="#262626">8x10<tspan font-size="5.3" dy="-3.21" dx="0.3" style="stroke-width:0.18px;letter-spacing:0.2px">21</tspan></text>
<path d="M60.8,239.1 L245.6,339.8" fill="none" stroke="#ff4a4a" stroke-width="1.05" stroke-linejoin="round" />
<circle cx="60.8" cy="240" r="2.35" fill="url(#gr)"/>
<circle cx="68.19" cy="243.6" r="2.35" fill="url(#gr)"/>
<circle cx="75.58" cy="247.24" r="2.35" fill="url(#gr)"/>
<circle cx="82.98" cy="250.92" r="2.35" fill="url(#gr)"/>
<circle cx="90.37" cy="254.64" r="2.35" fill="url(#gr)"/>
<circle cx="97.76" cy="258.41" r="2.35" fill="url(#gr)"/>
<circle cx="105.15" cy="262.22" r="2.35" fill="url(#gr)"/>
<circle cx="112.54" cy="266.07" r="2.35" fill="url(#gr)"/>
<circle cx="119.94" cy="269.96" r="2.35" fill="url(#gr)"/>
<circle cx="127.33" cy="273.89" r="2.35" fill="url(#gr)"/>
<circle cx="134.72" cy="277.87" r="2.35" fill="url(#gr)"/>
<circle cx="142.11" cy="281.89" r="2.35" fill="url(#gr)"/>
<circle cx="149.5" cy="285.95" r="2.35" fill="url(#gr)"/>
<circle cx="156.9" cy="290.05" r="2.35" fill="url(#gr)"/>
<circle cx="164.29" cy="294.19" r="2.35" fill="url(#gr)"/>
<circle cx="171.68" cy="298.38" r="2.35" fill="url(#gr)"/>
<circle cx="179.07" cy="302.61" r="2.35" fill="url(#gr)"/>
<circle cx="186.46" cy="306.88" r="2.35" fill="url(#gr)"/>
<circle cx="193.86" cy="311.19" r="2.35" fill="url(#gr)"/>
<circle cx="201.25" cy="315.54" r="2.35" fill="url(#gr)"/>
<circle cx="208.64" cy="319.94" r="2.35" fill="url(#gr)"/>
<circle cx="216.03" cy="324.38" r="2.35" fill="url(#gr)"/>
<circle cx="223.42" cy="328.86" r="2.35" fill="url(#gr)"/>
<circle cx="230.82" cy="333.38" r="2.35" fill="url(#gr)"/>
<circle cx="238.21" cy="337.94" r="2.35" fill="url(#gr)"/>
<circle cx="245.6" cy="342.55" r="2.35" fill="url(#gr)"/>
<path d="M60.8,369.8 L245.6,394.3" fill="none" stroke="#4a4aff" stroke-width="1.1" stroke-linejoin="round" />
<circle cx="60.8" cy="369.8" r="2.35" fill="url(#gb)"/>
<circle cx="68.19" cy="370.78" r="2.35" fill="url(#gb)"/>
<circle cx="75.58" cy="371.76" r="2.35" fill="url(#gb)"/>
<circle cx="82.98" cy="372.74" r="2.35" fill="url(#gb)"/>
<circle cx="90.37" cy="373.72" r="2.35" fill="url(#gb)"/>
<circle cx="97.76" cy="374.7" r="2.35" fill="url(#gb)"/>
<circle cx="105.15" cy="375.68" r="2.35" fill="url(#gb)"/>
<circle cx="112.54" cy="376.66" r="2.35" fill="url(#gb)"/>
<circle cx="119.94" cy="377.64" r="2.35" fill="url(#gb)"/>
<circle cx="127.33" cy="378.62" r="2.35" fill="url(#gb)"/>
<circle cx="134.72" cy="379.6" r="2.35" fill="url(#gb)"/>
<circle cx="142.11" cy="380.58" r="2.35" fill="url(#gb)"/>
<circle cx="149.5" cy="381.56" r="2.35" fill="url(#gb)"/>
<circle cx="156.9" cy="382.54" r="2.35" fill="url(#gb)"/>
<circle cx="164.29" cy="383.52" r="2.35" fill="url(#gb)"/>
<circle cx="171.68" cy="384.5" r="2.35" fill="url(#gb)"/>
<circle cx="179.07" cy="385.48" r="2.35" fill="url(#gb)"/>
<circle cx="186.46" cy="386.46" r="2.35" fill="url(#gb)"/>
<circle cx="193.86" cy="387.44" r="2.35" fill="url(#gb)"/>
<circle cx="201.25" cy="388.42" r="2.35" fill="url(#gb)"/>
<circle cx="208.64" cy="389.4" r="2.35" fill="url(#gb)"/>
<circle cx="216.03" cy="390.38" r="2.35" fill="url(#gb)"/>
<circle cx="223.42" cy="391.36" r="2.35" fill="url(#gb)"/>
<circle cx="230.82" cy="392.34" r="2.35" fill="url(#gb)"/>
<circle cx="238.21" cy="393.32" r="2.35" fill="url(#gb)"/>
<circle cx="245.6" cy="394.3" r="2.35" fill="url(#gb)"/>
<circle cx="192.8" cy="247.2" r="1.95" fill="url(#gb)"/>
<text x="206.3" y="250.72" font-size="9" text-anchor="start" fill="#262626" stroke="#262626" >500μm</text>
<circle cx="192.8" cy="258" r="1.95" fill="url(#gr)"/>
<text x="206.3" y="261.52" font-size="9" text-anchor="start" fill="#262626" stroke="#262626" >350μm</text>
<text x="104" y="302.37" font-size="9.4" text-anchor="start" fill="#ff2020" stroke="#ff2020" style="stroke-width:0.12px">N=1.21×10<tspan font-size="6.2" dy="-3.6" style="stroke-width:0.1px">15</tspan></text>
<text x="106.5" y="365.87" font-size="9.4" text-anchor="start" fill="#1a1aff" stroke="#1a1aff" style="stroke-width:0.12px">N=1.20×10<tspan font-size="6.2" dy="-3.6" style="stroke-width:0.1px">15</tspan></text>
<text x="153.4" y="423.79" font-size="9.2" text-anchor="middle" fill="#262626" stroke="#262626" >Bias(V)</text>
<text transform="translate(12.9,310.9) rotate(-90)" x="0" y="0" font-size="9.4" text-anchor="middle" fill="#262626" stroke="#262626">Capacitance<tspan font-size="6.2" dy="-3.6" dx="0.3" style="stroke-width:0.12px">−2</tspan><tspan dy="3.6" dx="3.2">(F</tspan><tspan font-size="6.2" dy="-3.6" dx="0.2" style="stroke-width:0.12px">−2</tspan><tspan dy="3.6">)</tspan></text>
<text x="15.6" y="421" font-size="17" fill="#1a1a1a" stroke="#1a1a1a" style="stroke-width:0.1px">(<tspan font-size="14.8">c</tspan><tspan dx="0.3">)</tspan></text>
<rect x="323.3" y="221.7" width="221.5" height="178.3" fill="none" stroke="#3c3c3c" stroke-width="1.3"/>
<line x1="341.7" y1="400" x2="341.7" y2="396.6" stroke="#3c3c3c" stroke-width="0.9" />
<line x1="341.7" y1="221.7" x2="341.7" y2="225.1" stroke="#3c3c3c" stroke-width="0.9" />
<line x1="360.17" y1="400" x2="360.17" y2="398.13" stroke="#3c3c3c" stroke-width="0.9" />
<line x1="360.17" y1="221.7" x2="360.17" y2="223.57" stroke="#3c3c3c" stroke-width="0.9" />
<line x1="378.64" y1="400" x2="378.64" y2="396.6" stroke="#3c3c3c" stroke-width="0.9" />
<line x1="378.64" y1="221.7" x2="378.64" y2="225.1" stroke="#3c3c3c" stroke-width="0.9" />
<line x1="397.11" y1="400" x2="397.11" y2="398.13" stroke="#3c3c3c" stroke-width="0.9" />
<line x1="397.11" y1="221.7" x2="397.11" y2="223.57" stroke="#3c3c3c" stroke-width="0.9" />
<line x1="415.58" y1="400" x2="415.58" y2="396.6" stroke="#3c3c3c" stroke-width="0.9" />
<line x1="415.58" y1="221.7" x2="415.58" y2="225.1" stroke="#3c3c3c" stroke-width="0.9" />
<line x1="434.05" y1="400" x2="434.05" y2="398.13" stroke="#3c3c3c" stroke-width="0.9" />
<line x1="434.05" y1="221.7" x2="434.05" y2="223.57" stroke="#3c3c3c" stroke-width="0.9" />
<line x1="452.52" y1="400" x2="452.52" y2="396.6" stroke="#3c3c3c" stroke-width="0.9" />
<line x1="452.52" y1="221.7" x2="452.52" y2="225.1" stroke="#3c3c3c" stroke-width="0.9" />
<line x1="470.99" y1="400" x2="470.99" y2="398.13" stroke="#3c3c3c" stroke-width="0.9" />
<line x1="470.99" y1="221.7" x2="470.99" y2="223.57" stroke="#3c3c3c" stroke-width="0.9" />
<line x1="489.46" y1="400" x2="489.46" y2="396.6" stroke="#3c3c3c" stroke-width="0.9" />
<line x1="489.46" y1="221.7" x2="489.46" y2="225.1" stroke="#3c3c3c" stroke-width="0.9" />
<line x1="507.93" y1="400" x2="507.93" y2="398.13" stroke="#3c3c3c" stroke-width="0.9" />
<line x1="507.93" y1="221.7" x2="507.93" y2="223.57" stroke="#3c3c3c" stroke-width="0.9" />
<line x1="526.4" y1="400" x2="526.4" y2="396.6" stroke="#3c3c3c" stroke-width="0.9" />
<line x1="526.4" y1="221.7" x2="526.4" y2="225.1" stroke="#3c3c3c" stroke-width="0.9" />
<line x1="323.3" y1="400" x2="326.7" y2="400" stroke="#3c3c3c" stroke-width="0.9" />
<line x1="544.8" y1="400" x2="541.4" y2="400" stroke="#3c3c3c" stroke-width="0.9" />
<line x1="323.3" y1="382.17" x2="325.17" y2="382.17" stroke="#3c3c3c" stroke-width="0.9" />
<line x1="544.8" y1="382.17" x2="542.93" y2="382.17" stroke="#3c3c3c" stroke-width="0.9" />
<line x1="323.3" y1="364.34" x2="326.7" y2="364.34" stroke="#3c3c3c" stroke-width="0.9" />
<line x1="544.8" y1="364.34" x2="541.4" y2="364.34" stroke="#3c3c3c" stroke-width="0.9" />
<line x1="323.3" y1="346.51" x2="325.17" y2="346.51" stroke="#3c3c3c" stroke-width="0.9" />
<line x1="544.8" y1="346.51" x2="542.93" y2="346.51" stroke="#3c3c3c" stroke-width="0.9" />
<line x1="323.3" y1="328.68" x2="326.7" y2="328.68" stroke="#3c3c3c" stroke-width="0.9" />
<line x1="544.8" y1="328.68" x2="541.4" y2="328.68" stroke="#3c3c3c" stroke-width="0.9" />
<line x1="323.3" y1="310.85" x2="325.17" y2="310.85" stroke="#3c3c3c" stroke-width="0.9" />
<line x1="544.8" y1="310.85" x2="542.93" y2="310.85" stroke="#3c3c3c" stroke-width="0.9" />
<line x1="323.3" y1="293.02" x2="326.7" y2="293.02" stroke="#3c3c3c" stroke-width="0.9" />
<line x1="544.8" y1="293.02" x2="541.4" y2="293.02" stroke="#3c3c3c" stroke-width="0.9" />
<line x1="323.3" y1="275.19" x2="325.17" y2="275.19" stroke="#3c3c3c" stroke-width="0.9" />
<line x1="544.8" y1="275.19" x2="542.93" y2="275.19" stroke="#3c3c3c" stroke-width="0.9" />
<line x1="323.3" y1="257.36" x2="326.7" y2="257.36" stroke="#3c3c3c" stroke-width="0.9" />
<line x1="544.8" y1="257.36" x2="541.4" y2="257.36" stroke="#3c3c3c" stroke-width="0.9" />
<line x1="323.3" y1="239.53" x2="325.17" y2="239.53" stroke="#3c3c3c" stroke-width="0.9" />
<line x1="544.8" y1="239.53" x2="542.93" y2="239.53" stroke="#3c3c3c" stroke-width="0.9" />
<line x1="323.3" y1="221.7" x2="326.7" y2="221.7" stroke="#3c3c3c" stroke-width="0.9" />
<line x1="544.8" y1="221.7" x2="541.4" y2="221.7" stroke="#3c3c3c" stroke-width="0.9" />
<text x="341.7" y="410.32" font-size="7.6" text-anchor="middle" fill="#262626" stroke="#262626" >-0.5</text>
<text x="378.64" y="410.32" font-size="7.6" text-anchor="middle" fill="#262626" stroke="#262626" >-0.4</text>
<text x="415.58" y="410.32" font-size="7.6" text-anchor="middle" fill="#262626" stroke="#262626" >-0.3</text>
<text x="452.52" y="410.32" font-size="7.6" text-anchor="middle" fill="#262626" stroke="#262626" >-0.2</text>
<text x="489.46" y="410.32" font-size="7.6" text-anchor="middle" fill="#262626" stroke="#262626" >-0.1</text>
<text x="526.4" y="410.32" font-size="7.6" text-anchor="middle" fill="#262626" stroke="#262626" >0.0</text>
<text x="320" y="402.58" font-size="7.2" text-anchor="end" fill="#262626" stroke="#262626" >0</text>
<text x="319.4" y="367.25" font-size="7.3" text-anchor="end" fill="#262626" stroke="#262626">2x10<tspan font-size="5.3" dy="-3.21" dx="0.3" style="stroke-width:0.18px;letter-spacing:0.2px">23</tspan></text>
<text x="319.4" y="331.59" font-size="7.3" text-anchor="end" fill="#262626" stroke="#262626">4x10<tspan font-size="5.3" dy="-3.21" dx="0.3" style="stroke-width:0.18px;letter-spacing:0.2px">23</tspan></text>
<text x="319.4" y="295.93" font-size="7.3" text-anchor="end" fill="#262626" stroke="#262626">6x10<tspan font-size="5.3" dy="-3.21" dx="0.3" style="stroke-width:0.18px;letter-spacing:0.2px">23</tspan></text>
<text x="319.4" y="260.27" font-size="7.3" text-anchor="end" fill="#262626" stroke="#262626">8x10<tspan font-size="5.3" dy="-3.21" dx="0.3" style="stroke-width:0.18px;letter-spacing:0.2px">23</tspan></text>
<text x="319.2" y="224.81" font-size="7.3" text-anchor="end" fill="#262626" stroke="#262626">1x10<tspan font-size="5.3" dy="-3.21" dx="0.3" style="stroke-width:0.18px;letter-spacing:0.2px">24</tspan></text>
<path d="M341.7,235.6 L526.4,322.8" fill="none" stroke="#ff4aff" stroke-width="1.1" stroke-linejoin="round" />
<circle cx="341.7" cy="236.3" r="2.35" fill="url(#gm)"/>
<circle cx="349.09" cy="239.3" r="2.35" fill="url(#gm)"/>
<circle cx="356.48" cy="242.34" r="2.35" fill="url(#gm)"/>
<circle cx="363.86" cy="245.44" r="2.35" fill="url(#gm)"/>
<circle cx="371.25" cy="248.6" r="2.35" fill="url(#gm)"/>
<circle cx="378.64" cy="251.8" r="2.35" fill="url(#gm)"/>
<circle cx="386.03" cy="255.06" r="2.35" fill="url(#gm)"/>
<circle cx="393.42" cy="258.36" r="2.35" fill="url(#gm)"/>
<circle cx="400.8" cy="261.72" r="2.35" fill="url(#gm)"/>
<circle cx="408.19" cy="265.14" r="2.35" fill="url(#gm)"/>
<circle cx="415.58" cy="268.6" r="2.35" fill="url(#gm)"/>
<circle cx="422.97" cy="272.12" r="2.35" fill="url(#gm)"/>
<circle cx="430.36" cy="275.68" r="2.35" fill="url(#gm)"/>
<circle cx="437.74" cy="279.3" r="2.35" fill="url(#gm)"/>
<circle cx="445.13" cy="282.98" r="2.35" fill="url(#gm)"/>
<circle cx="452.52" cy="286.7" r="2.35" fill="url(#gm)"/>
<circle cx="459.91" cy="290.48" r="2.35" fill="url(#gm)"/>
<circle cx="467.3" cy="294.3" r="2.35" fill="url(#gm)"/>
<circle cx="474.68" cy="298.18" r="2.35" fill="url(#gm)"/>
<circle cx="482.07" cy="302.12" r="2.35" fill="url(#gm)"/>
<circle cx="489.46" cy="306.1" r="2.35" fill="url(#gm)"/>
<circle cx="496.85" cy="310.14" r="2.35" fill="url(#gm)"/>
<circle cx="504.24" cy="314.22" r="2.35" fill="url(#gm)"/>
<circle cx="511.62" cy="318.36" r="2.35" fill="url(#gm)"/>
<circle cx="519.01" cy="322.56" r="2.35" fill="url(#gm)"/>
<circle cx="526.4" cy="326.8" r="2.35" fill="url(#gm)"/>
<path d="M341.7,382 L526.4,392.3" fill="none" stroke="#333333" stroke-width="1" stroke-linejoin="round" />
<circle cx="341.7" cy="382" r="2.35" fill="url(#gk)"/>
<circle cx="349.09" cy="382.41" r="2.35" fill="url(#gk)"/>
<circle cx="356.48" cy="382.82" r="2.35" fill="url(#gk)"/>
<circle cx="363.86" cy="383.24" r="2.35" fill="url(#gk)"/>
<circle cx="371.25" cy="383.65" r="2.35" fill="url(#gk)"/>
<circle cx="378.64" cy="384.06" r="2.35" fill="url(#gk)"/>
<circle cx="386.03" cy="384.47" r="2.35" fill="url(#gk)"/>
<circle cx="393.42" cy="384.88" r="2.35" fill="url(#gk)"/>
<circle cx="400.8" cy="385.3" r="2.35" fill="url(#gk)"/>
<circle cx="408.19" cy="385.71" r="2.35" fill="url(#gk)"/>
<circle cx="415.58" cy="386.12" r="2.35" fill="url(#gk)"/>
<circle cx="422.97" cy="386.53" r="2.35" fill="url(#gk)"/>
<circle cx="430.36" cy="386.94" r="2.35" fill="url(#gk)"/>
<circle cx="437.74" cy="387.36" r="2.35" fill="url(#gk)"/>
<circle cx="445.13" cy="387.77" r="2.35" fill="url(#gk)"/>
<circle cx="452.52" cy="388.18" r="2.35" fill="url(#gk)"/>
<circle cx="459.91" cy="388.59" r="2.35" fill="url(#gk)"/>
<circle cx="467.3" cy="389" r="2.35" fill="url(#gk)"/>
<circle cx="474.68" cy="389.42" r="2.35" fill="url(#gk)"/>
<circle cx="482.07" cy="389.83" r="2.35" fill="url(#gk)"/>
<circle cx="489.46" cy="390.24" r="2.35" fill="url(#gk)"/>
<circle cx="496.85" cy="390.65" r="2.35" fill="url(#gk)"/>
<circle cx="504.24" cy="391.06" r="2.35" fill="url(#gk)"/>
<circle cx="511.62" cy="391.48" r="2.35" fill="url(#gk)"/>
<circle cx="519.01" cy="391.89" r="2.35" fill="url(#gk)"/>
<circle cx="526.4" cy="392.3" r="2.35" fill="url(#gk)"/>
<circle cx="495.1" cy="235.9" r="1.95" fill="url(#gk)"/>
<text x="508.6" y="239.42" font-size="9" text-anchor="start" fill="#262626" stroke="#262626" >180μm</text>
<circle cx="495.1" cy="246.8" r="1.95" fill="url(#gm)"/>
<text x="508.6" y="250.32" font-size="9" text-anchor="start" fill="#262626" stroke="#262626" >100μm</text>
<text x="395" y="298.07" font-size="9.4" text-anchor="start" fill="#ff22ff" stroke="#ff22ff" style="stroke-width:0.12px">N=1.64×10<tspan font-size="6.2" dy="-3.6" style="stroke-width:0.1px">15</tspan></text>
<text x="399" y="380.37" font-size="9.4" text-anchor="start" fill="#111111" stroke="#111111" style="stroke-width:0.12px">N=1.30×10<tspan font-size="6.2" dy="-3.6" style="stroke-width:0.1px">15</tspan></text>
<text x="434.25" y="423.79" font-size="9.2" text-anchor="middle" fill="#262626" stroke="#262626" >Bias(V)</text>
<text transform="translate(291.8,310.6) rotate(-90)" x="0" y="0" font-size="9.4" text-anchor="middle" fill="#262626" stroke="#262626">Capacitance<tspan font-size="6.2" dy="-3.6" dx="0.3" style="stroke-width:0.12px">−2</tspan><tspan dy="3.6" dx="3.2">(F</tspan><tspan font-size="6.2" dy="-3.6" dx="0.2" style="stroke-width:0.12px">−2</tspan><tspan dy="3.6">)</tspan></text>
<text x="279.6" y="421.2" font-size="17" fill="#1a1a1a" stroke="#1a1a1a" style="stroke-width:0.1px">(<tspan font-size="14.8">d</tspan><tspan dx="0.3">)</tspan></text>
</svg></body></html>
